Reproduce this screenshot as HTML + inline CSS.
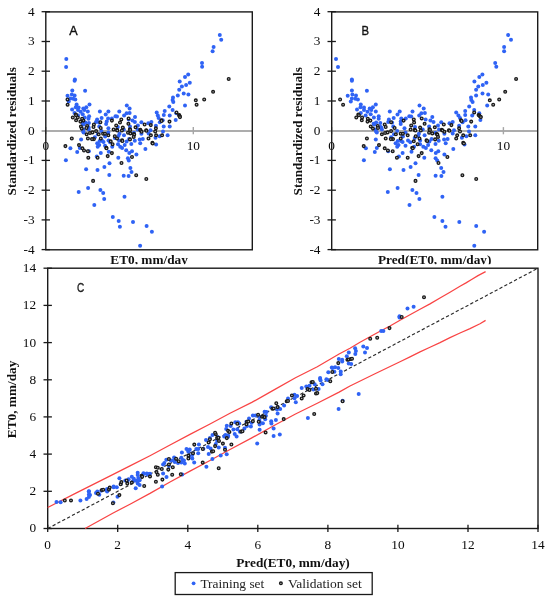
<!DOCTYPE html>
<html><head><meta charset="utf-8"><title>Figure</title>
<style>html,body{margin:0;padding:0;background:#fff}svg{display:block}</style></head>
<body>
<svg width="550" height="603" viewBox="0 0 550 603">
<rect width="550" height="603" fill="#fff"/>
<line x1="41.599999999999994" y1="131.0" x2="252.3" y2="131.0" stroke="#adadad" stroke-width="2"/>
<line x1="45.8" y1="127.1" x2="45.8" y2="134.29999999999998" stroke="#a6a6a6" stroke-width="1.4"/>
<text x="45.8" y="149.6" text-anchor="middle" font-family="'Liberation Serif', serif" font-size="13.3" fill="#0a0a0a">0</text>
<line x1="193.3" y1="127.1" x2="193.3" y2="134.29999999999998" stroke="#a6a6a6" stroke-width="1.4"/>
<text x="193.3" y="149.6" text-anchor="middle" font-family="'Liberation Serif', serif" font-size="13.3" fill="#0a0a0a">10</text>
<rect x="45.8" y="11.9" width="206.5" height="237.9" fill="none" stroke="#1a1a1a" stroke-width="1.4"/>
<line x1="41.599999999999994" y1="249.6" x2="50.0" y2="249.6" stroke="#1a1a1a" stroke-width="1.3"/>
<text x="34.6" y="253.5" text-anchor="end" font-family="'Liberation Serif', serif" font-size="13.3" fill="#0a0a0a">-4</text>
<line x1="41.599999999999994" y1="219.9" x2="50.0" y2="219.9" stroke="#1a1a1a" stroke-width="1.3"/>
<text x="34.6" y="223.8" text-anchor="end" font-family="'Liberation Serif', serif" font-size="13.3" fill="#0a0a0a">-3</text>
<line x1="41.599999999999994" y1="190.2" x2="50.0" y2="190.2" stroke="#1a1a1a" stroke-width="1.3"/>
<text x="34.6" y="194.1" text-anchor="end" font-family="'Liberation Serif', serif" font-size="13.3" fill="#0a0a0a">-2</text>
<line x1="41.599999999999994" y1="160.4" x2="50.0" y2="160.4" stroke="#1a1a1a" stroke-width="1.3"/>
<text x="34.6" y="164.3" text-anchor="end" font-family="'Liberation Serif', serif" font-size="13.3" fill="#0a0a0a">-1</text>
<text x="34.6" y="134.6" text-anchor="end" font-family="'Liberation Serif', serif" font-size="13.3" fill="#0a0a0a">0</text>
<line x1="41.599999999999994" y1="101.0" x2="50.0" y2="101.0" stroke="#1a1a1a" stroke-width="1.3"/>
<text x="34.6" y="104.9" text-anchor="end" font-family="'Liberation Serif', serif" font-size="13.3" fill="#0a0a0a">1</text>
<line x1="41.599999999999994" y1="71.2" x2="50.0" y2="71.2" stroke="#1a1a1a" stroke-width="1.3"/>
<text x="34.6" y="75.1" text-anchor="end" font-family="'Liberation Serif', serif" font-size="13.3" fill="#0a0a0a">2</text>
<line x1="41.599999999999994" y1="41.5" x2="50.0" y2="41.5" stroke="#1a1a1a" stroke-width="1.3"/>
<text x="34.6" y="45.4" text-anchor="end" font-family="'Liberation Serif', serif" font-size="13.3" fill="#0a0a0a">3</text>
<line x1="41.599999999999994" y1="11.7" x2="50.0" y2="11.7" stroke="#1a1a1a" stroke-width="1.3"/>
<text x="34.6" y="15.6" text-anchor="end" font-family="'Liberation Serif', serif" font-size="13.3" fill="#0a0a0a">4</text>
<circle cx="106.7" cy="121.6" r="2.0" fill="#2f63f5"/>
<circle cx="106.1" cy="124.1" r="2.0" fill="#2f63f5"/>
<circle cx="108.4" cy="128.3" r="2.0" fill="#2f63f5"/>
<circle cx="99.3" cy="126.4" r="2.0" fill="#2f63f5"/>
<circle cx="101.4" cy="131.1" r="2.0" fill="#2f63f5"/>
<circle cx="97.9" cy="134.3" r="2.0" fill="#2f63f5"/>
<circle cx="108.3" cy="132.4" r="2.0" fill="#2f63f5"/>
<circle cx="105.1" cy="136.5" r="2.0" fill="#2f63f5"/>
<circle cx="108.5" cy="140.4" r="2.0" fill="#2f63f5"/>
<circle cx="110.0" cy="142.3" r="2.0" fill="#2f63f5"/>
<circle cx="99.6" cy="141.0" r="2.0" fill="#2f63f5"/>
<circle cx="102.4" cy="141.0" r="2.0" fill="#2f63f5"/>
<circle cx="103.5" cy="141.9" r="2.0" fill="#2f63f5"/>
<circle cx="97.2" cy="143.2" r="2.0" fill="#2f63f5"/>
<circle cx="99.2" cy="145.1" r="2.0" fill="#2f63f5"/>
<circle cx="97.7" cy="146.7" r="2.0" fill="#2f63f5"/>
<circle cx="105.0" cy="145.8" r="2.0" fill="#2f63f5"/>
<circle cx="100.8" cy="153.1" r="2.0" fill="#2f63f5"/>
<circle cx="108.8" cy="151.8" r="2.0" fill="#2f63f5"/>
<circle cx="112.2" cy="146.7" r="2.0" fill="#2f63f5"/>
<circle cx="117.8" cy="127.0" r="2.0" fill="#2f63f5"/>
<circle cx="119.5" cy="133.7" r="2.0" fill="#2f63f5"/>
<circle cx="118.4" cy="135.9" r="2.0" fill="#2f63f5"/>
<circle cx="119.0" cy="140.4" r="2.0" fill="#2f63f5"/>
<circle cx="123.8" cy="129.5" r="2.0" fill="#2f63f5"/>
<circle cx="124.0" cy="135.3" r="2.0" fill="#2f63f5"/>
<circle cx="118.0" cy="144.2" r="2.0" fill="#2f63f5"/>
<circle cx="120.2" cy="146.7" r="2.0" fill="#2f63f5"/>
<circle cx="114.8" cy="138.1" r="2.0" fill="#2f63f5"/>
<circle cx="94.8" cy="137.2" r="2.0" fill="#2f63f5"/>
<circle cx="99.1" cy="122.5" r="2.0" fill="#2f63f5"/>
<circle cx="81.1" cy="139.4" r="2.0" fill="#2f63f5"/>
<circle cx="70.4" cy="148.3" r="2.0" fill="#2f63f5"/>
<circle cx="79.8" cy="148.0" r="2.0" fill="#2f63f5"/>
<circle cx="77.2" cy="152.1" r="2.0" fill="#2f63f5"/>
<circle cx="82.9" cy="123.8" r="2.0" fill="#2f63f5"/>
<circle cx="85.4" cy="122.5" r="2.0" fill="#2f63f5"/>
<circle cx="88.9" cy="122.9" r="2.0" fill="#2f63f5"/>
<circle cx="88.2" cy="127.0" r="2.0" fill="#2f63f5"/>
<circle cx="83.2" cy="129.5" r="2.0" fill="#2f63f5"/>
<circle cx="83.6" cy="132.4" r="2.0" fill="#2f63f5"/>
<circle cx="88.7" cy="129.5" r="2.0" fill="#2f63f5"/>
<circle cx="96.0" cy="121.9" r="2.0" fill="#2f63f5"/>
<circle cx="88.9" cy="151.2" r="2.0" fill="#2f63f5"/>
<circle cx="83.3" cy="124.5" r="2.0" fill="#2f63f5"/>
<circle cx="88.6" cy="127.6" r="2.0" fill="#2f63f5"/>
<circle cx="83.3" cy="131.5" r="2.0" fill="#2f63f5"/>
<circle cx="134.9" cy="121.9" r="2.0" fill="#2f63f5"/>
<circle cx="141.4" cy="122.2" r="2.0" fill="#2f63f5"/>
<circle cx="137.9" cy="125.4" r="2.0" fill="#2f63f5"/>
<circle cx="130.0" cy="126.4" r="2.0" fill="#2f63f5"/>
<circle cx="137.7" cy="129.5" r="2.0" fill="#2f63f5"/>
<circle cx="134.0" cy="132.7" r="2.0" fill="#2f63f5"/>
<circle cx="141.4" cy="133.7" r="2.0" fill="#2f63f5"/>
<circle cx="148.6" cy="133.4" r="2.0" fill="#2f63f5"/>
<circle cx="150.5" cy="130.2" r="2.0" fill="#2f63f5"/>
<circle cx="148.3" cy="123.2" r="2.0" fill="#2f63f5"/>
<circle cx="151.4" cy="121.9" r="2.0" fill="#2f63f5"/>
<circle cx="155.9" cy="125.7" r="2.0" fill="#2f63f5"/>
<circle cx="139.7" cy="139.4" r="2.0" fill="#2f63f5"/>
<circle cx="142.8" cy="139.1" r="2.0" fill="#2f63f5"/>
<circle cx="140.2" cy="143.2" r="2.0" fill="#2f63f5"/>
<circle cx="131.3" cy="143.9" r="2.0" fill="#2f63f5"/>
<circle cx="129.1" cy="139.1" r="2.0" fill="#2f63f5"/>
<circle cx="126.6" cy="141.6" r="2.0" fill="#2f63f5"/>
<circle cx="124.7" cy="145.1" r="2.0" fill="#2f63f5"/>
<circle cx="122.1" cy="148.0" r="2.0" fill="#2f63f5"/>
<circle cx="126.2" cy="150.2" r="2.0" fill="#2f63f5"/>
<circle cx="132.0" cy="151.2" r="2.0" fill="#2f63f5"/>
<circle cx="129.3" cy="153.1" r="2.0" fill="#2f63f5"/>
<circle cx="145.4" cy="148.9" r="2.0" fill="#2f63f5"/>
<circle cx="136.4" cy="154.4" r="2.0" fill="#2f63f5"/>
<circle cx="132.5" cy="120.6" r="2.0" fill="#2f63f5"/>
<circle cx="134.8" cy="140.7" r="2.0" fill="#2f63f5"/>
<circle cx="163.7" cy="126.4" r="2.0" fill="#2f63f5"/>
<circle cx="169.7" cy="126.4" r="2.0" fill="#2f63f5"/>
<circle cx="163.0" cy="131.5" r="2.0" fill="#2f63f5"/>
<circle cx="167.6" cy="135.3" r="2.0" fill="#2f63f5"/>
<circle cx="159.7" cy="136.2" r="2.0" fill="#2f63f5"/>
<circle cx="155.5" cy="137.8" r="2.0" fill="#2f63f5"/>
<circle cx="156.1" cy="144.5" r="2.0" fill="#2f63f5"/>
<circle cx="162.7" cy="120.3" r="2.0" fill="#2f63f5"/>
<circle cx="175.7" cy="120.0" r="2.0" fill="#2f63f5"/>
<circle cx="159.8" cy="122.2" r="2.0" fill="#2f63f5"/>
<circle cx="85.1" cy="90.7" r="2.0" fill="#2f63f5"/>
<circle cx="74.6" cy="95.5" r="2.0" fill="#2f63f5"/>
<circle cx="75.3" cy="99.6" r="2.0" fill="#2f63f5"/>
<circle cx="73.3" cy="98.7" r="2.0" fill="#2f63f5"/>
<circle cx="76.6" cy="104.4" r="2.0" fill="#2f63f5"/>
<circle cx="89.5" cy="104.4" r="2.0" fill="#2f63f5"/>
<circle cx="75.7" cy="107.3" r="2.0" fill="#2f63f5"/>
<circle cx="78.6" cy="107.6" r="2.0" fill="#2f63f5"/>
<circle cx="78.0" cy="110.1" r="2.0" fill="#2f63f5"/>
<circle cx="72.1" cy="109.5" r="2.0" fill="#2f63f5"/>
<circle cx="83.3" cy="108.6" r="2.0" fill="#2f63f5"/>
<circle cx="86.3" cy="107.3" r="2.0" fill="#2f63f5"/>
<circle cx="84.3" cy="110.1" r="2.0" fill="#2f63f5"/>
<circle cx="80.6" cy="111.7" r="2.0" fill="#2f63f5"/>
<circle cx="87.8" cy="111.4" r="2.0" fill="#2f63f5"/>
<circle cx="74.5" cy="113.0" r="2.0" fill="#2f63f5"/>
<circle cx="82.7" cy="114.3" r="2.0" fill="#2f63f5"/>
<circle cx="78.0" cy="115.6" r="2.0" fill="#2f63f5"/>
<circle cx="84.7" cy="117.5" r="2.0" fill="#2f63f5"/>
<circle cx="89.1" cy="116.2" r="2.0" fill="#2f63f5"/>
<circle cx="88.5" cy="118.7" r="2.0" fill="#2f63f5"/>
<circle cx="99.9" cy="111.4" r="2.0" fill="#2f63f5"/>
<circle cx="97.1" cy="119.4" r="2.0" fill="#2f63f5"/>
<circle cx="126.8" cy="105.4" r="2.0" fill="#2f63f5"/>
<circle cx="129.6" cy="108.6" r="2.0" fill="#2f63f5"/>
<circle cx="108.4" cy="111.4" r="2.0" fill="#2f63f5"/>
<circle cx="119.3" cy="111.4" r="2.0" fill="#2f63f5"/>
<circle cx="105.7" cy="114.6" r="2.0" fill="#2f63f5"/>
<circle cx="126.6" cy="113.3" r="2.0" fill="#2f63f5"/>
<circle cx="124.1" cy="115.6" r="2.0" fill="#2f63f5"/>
<circle cx="129.6" cy="113.0" r="2.0" fill="#2f63f5"/>
<circle cx="115.5" cy="116.2" r="2.0" fill="#2f63f5"/>
<circle cx="117.0" cy="116.5" r="2.0" fill="#2f63f5"/>
<circle cx="101.6" cy="118.1" r="2.0" fill="#2f63f5"/>
<circle cx="108.1" cy="118.4" r="2.0" fill="#2f63f5"/>
<circle cx="111.9" cy="118.4" r="2.0" fill="#2f63f5"/>
<circle cx="135.0" cy="117.1" r="2.0" fill="#2f63f5"/>
<circle cx="156.7" cy="112.4" r="2.0" fill="#2f63f5"/>
<circle cx="157.8" cy="115.6" r="2.0" fill="#2f63f5"/>
<circle cx="158.6" cy="118.1" r="2.0" fill="#2f63f5"/>
<circle cx="128.7" cy="119.4" r="2.0" fill="#2f63f5"/>
<circle cx="181.9" cy="86.6" r="2.0" fill="#2f63f5"/>
<circle cx="179.2" cy="89.8" r="2.0" fill="#2f63f5"/>
<circle cx="183.7" cy="93.6" r="2.0" fill="#2f63f5"/>
<circle cx="188.4" cy="94.6" r="2.0" fill="#2f63f5"/>
<circle cx="177.8" cy="95.5" r="2.0" fill="#2f63f5"/>
<circle cx="173.0" cy="97.4" r="2.0" fill="#2f63f5"/>
<circle cx="172.6" cy="100.0" r="2.0" fill="#2f63f5"/>
<circle cx="173.3" cy="101.9" r="2.0" fill="#2f63f5"/>
<circle cx="185.0" cy="105.4" r="2.0" fill="#2f63f5"/>
<circle cx="169.3" cy="106.6" r="2.0" fill="#2f63f5"/>
<circle cx="172.6" cy="110.1" r="2.0" fill="#2f63f5"/>
<circle cx="164.7" cy="111.1" r="2.0" fill="#2f63f5"/>
<circle cx="163.8" cy="114.9" r="2.0" fill="#2f63f5"/>
<circle cx="169.7" cy="115.6" r="2.0" fill="#2f63f5"/>
<circle cx="176.3" cy="113.3" r="2.0" fill="#2f63f5"/>
<circle cx="186.1" cy="85.0" r="2.0" fill="#2f63f5"/>
<circle cx="66.3" cy="58.9" r="2.0" fill="#2f63f5"/>
<circle cx="66.1" cy="66.9" r="2.0" fill="#2f63f5"/>
<circle cx="74.9" cy="79.6" r="2.0" fill="#2f63f5"/>
<circle cx="74.6" cy="80.7" r="2.0" fill="#2f63f5"/>
<circle cx="72.3" cy="90.5" r="2.0" fill="#2f63f5"/>
<circle cx="67.5" cy="95.8" r="2.0" fill="#2f63f5"/>
<circle cx="71.8" cy="94.6" r="2.0" fill="#2f63f5"/>
<circle cx="70.3" cy="98.6" r="2.0" fill="#2f63f5"/>
<circle cx="68.7" cy="101.6" r="2.0" fill="#2f63f5"/>
<circle cx="188.2" cy="74.6" r="2.0" fill="#2f63f5"/>
<circle cx="185.0" cy="77.1" r="2.0" fill="#2f63f5"/>
<circle cx="179.7" cy="81.5" r="2.0" fill="#2f63f5"/>
<circle cx="189.8" cy="82.8" r="2.0" fill="#2f63f5"/>
<circle cx="219.8" cy="35.1" r="2.0" fill="#2f63f5"/>
<circle cx="221.2" cy="39.8" r="2.0" fill="#2f63f5"/>
<circle cx="213.6" cy="46.9" r="2.0" fill="#2f63f5"/>
<circle cx="212.6" cy="51.2" r="2.0" fill="#2f63f5"/>
<circle cx="202.0" cy="62.9" r="2.0" fill="#2f63f5"/>
<circle cx="202.1" cy="66.8" r="2.0" fill="#2f63f5"/>
<circle cx="65.9" cy="160.2" r="2.0" fill="#2f63f5"/>
<circle cx="86.1" cy="169.2" r="2.0" fill="#2f63f5"/>
<circle cx="97.5" cy="169.9" r="2.0" fill="#2f63f5"/>
<circle cx="104.4" cy="167.0" r="2.0" fill="#2f63f5"/>
<circle cx="109.5" cy="163.2" r="2.0" fill="#2f63f5"/>
<circle cx="109.3" cy="174.9" r="2.0" fill="#2f63f5"/>
<circle cx="118.3" cy="157.7" r="2.0" fill="#2f63f5"/>
<circle cx="127.9" cy="158.3" r="2.0" fill="#2f63f5"/>
<circle cx="128.8" cy="160.4" r="2.0" fill="#2f63f5"/>
<circle cx="130.4" cy="168.1" r="2.0" fill="#2f63f5"/>
<circle cx="131.5" cy="171.9" r="2.0" fill="#2f63f5"/>
<circle cx="128.6" cy="176.0" r="2.0" fill="#2f63f5"/>
<circle cx="123.7" cy="175.7" r="2.0" fill="#2f63f5"/>
<circle cx="96.8" cy="156.6" r="2.0" fill="#2f63f5"/>
<circle cx="78.7" cy="192.1" r="2.0" fill="#2f63f5"/>
<circle cx="88.1" cy="188.0" r="2.0" fill="#2f63f5"/>
<circle cx="100.4" cy="189.9" r="2.0" fill="#2f63f5"/>
<circle cx="103.2" cy="193.0" r="2.0" fill="#2f63f5"/>
<circle cx="104.2" cy="199.1" r="2.0" fill="#2f63f5"/>
<circle cx="94.3" cy="204.9" r="2.0" fill="#2f63f5"/>
<circle cx="124.5" cy="196.8" r="2.0" fill="#2f63f5"/>
<circle cx="112.8" cy="216.9" r="2.0" fill="#2f63f5"/>
<circle cx="118.7" cy="220.9" r="2.0" fill="#2f63f5"/>
<circle cx="119.9" cy="226.8" r="2.0" fill="#2f63f5"/>
<circle cx="133.0" cy="221.9" r="2.0" fill="#2f63f5"/>
<circle cx="146.6" cy="225.9" r="2.0" fill="#2f63f5"/>
<circle cx="151.9" cy="231.8" r="2.0" fill="#2f63f5"/>
<circle cx="140.1" cy="245.8" r="2.0" fill="#2f63f5"/>
<circle cx="100.7" cy="128.0" r="1.35" fill="#c4c4c4" stroke="#1a1a1a" stroke-width="1.35"/>
<circle cx="96.1" cy="131.1" r="1.35" fill="#c4c4c4" stroke="#1a1a1a" stroke-width="1.35"/>
<circle cx="98.7" cy="134.3" r="1.35" fill="#c4c4c4" stroke="#1a1a1a" stroke-width="1.35"/>
<circle cx="103.1" cy="133.7" r="1.35" fill="#c4c4c4" stroke="#1a1a1a" stroke-width="1.35"/>
<circle cx="105.0" cy="133.7" r="1.35" fill="#c4c4c4" stroke="#1a1a1a" stroke-width="1.35"/>
<circle cx="108.4" cy="135.3" r="1.35" fill="#c4c4c4" stroke="#1a1a1a" stroke-width="1.35"/>
<circle cx="100.8" cy="138.5" r="1.35" fill="#c4c4c4" stroke="#1a1a1a" stroke-width="1.35"/>
<circle cx="93.9" cy="139.1" r="1.35" fill="#c4c4c4" stroke="#1a1a1a" stroke-width="1.35"/>
<circle cx="92.0" cy="139.1" r="1.35" fill="#c4c4c4" stroke="#1a1a1a" stroke-width="1.35"/>
<circle cx="116.2" cy="125.4" r="1.35" fill="#c4c4c4" stroke="#1a1a1a" stroke-width="1.35"/>
<circle cx="120.0" cy="122.5" r="1.35" fill="#c4c4c4" stroke="#1a1a1a" stroke-width="1.35"/>
<circle cx="113.6" cy="129.5" r="1.35" fill="#c4c4c4" stroke="#1a1a1a" stroke-width="1.35"/>
<circle cx="117.0" cy="129.9" r="1.35" fill="#c4c4c4" stroke="#1a1a1a" stroke-width="1.35"/>
<circle cx="117.3" cy="130.5" r="1.35" fill="#c4c4c4" stroke="#1a1a1a" stroke-width="1.35"/>
<circle cx="122.8" cy="127.6" r="1.35" fill="#c4c4c4" stroke="#1a1a1a" stroke-width="1.35"/>
<circle cx="121.9" cy="130.5" r="1.35" fill="#c4c4c4" stroke="#1a1a1a" stroke-width="1.35"/>
<circle cx="114.8" cy="136.2" r="1.35" fill="#c4c4c4" stroke="#1a1a1a" stroke-width="1.35"/>
<circle cx="117.0" cy="138.5" r="1.35" fill="#c4c4c4" stroke="#1a1a1a" stroke-width="1.35"/>
<circle cx="110.7" cy="141.3" r="1.35" fill="#c4c4c4" stroke="#1a1a1a" stroke-width="1.35"/>
<circle cx="106.3" cy="147.7" r="1.35" fill="#c4c4c4" stroke="#1a1a1a" stroke-width="1.35"/>
<circle cx="106.5" cy="148.3" r="1.35" fill="#c4c4c4" stroke="#1a1a1a" stroke-width="1.35"/>
<circle cx="112.6" cy="144.2" r="1.35" fill="#c4c4c4" stroke="#1a1a1a" stroke-width="1.35"/>
<circle cx="87.9" cy="151.2" r="1.35" fill="#c4c4c4" stroke="#1a1a1a" stroke-width="1.35"/>
<circle cx="111.9" cy="153.1" r="1.35" fill="#c4c4c4" stroke="#1a1a1a" stroke-width="1.35"/>
<circle cx="128.4" cy="123.8" r="1.35" fill="#c4c4c4" stroke="#1a1a1a" stroke-width="1.35"/>
<circle cx="111.9" cy="120.6" r="1.35" fill="#c4c4c4" stroke="#1a1a1a" stroke-width="1.35"/>
<circle cx="100.4" cy="122.2" r="1.35" fill="#c4c4c4" stroke="#1a1a1a" stroke-width="1.35"/>
<circle cx="71.8" cy="138.5" r="1.35" fill="#c4c4c4" stroke="#1a1a1a" stroke-width="1.35"/>
<circle cx="65.4" cy="146.1" r="1.35" fill="#c4c4c4" stroke="#1a1a1a" stroke-width="1.35"/>
<circle cx="79.0" cy="145.1" r="1.35" fill="#c4c4c4" stroke="#1a1a1a" stroke-width="1.35"/>
<circle cx="82.4" cy="148.3" r="1.35" fill="#c4c4c4" stroke="#1a1a1a" stroke-width="1.35"/>
<circle cx="84.0" cy="150.5" r="1.35" fill="#c4c4c4" stroke="#1a1a1a" stroke-width="1.35"/>
<circle cx="87.9" cy="138.5" r="1.35" fill="#c4c4c4" stroke="#1a1a1a" stroke-width="1.35"/>
<circle cx="86.6" cy="134.3" r="1.35" fill="#c4c4c4" stroke="#1a1a1a" stroke-width="1.35"/>
<circle cx="90.0" cy="133.0" r="1.35" fill="#c4c4c4" stroke="#1a1a1a" stroke-width="1.35"/>
<circle cx="92.5" cy="132.4" r="1.35" fill="#c4c4c4" stroke="#1a1a1a" stroke-width="1.35"/>
<circle cx="80.9" cy="126.4" r="1.35" fill="#c4c4c4" stroke="#1a1a1a" stroke-width="1.35"/>
<circle cx="81.7" cy="128.6" r="1.35" fill="#c4c4c4" stroke="#1a1a1a" stroke-width="1.35"/>
<circle cx="87.1" cy="126.0" r="1.35" fill="#c4c4c4" stroke="#1a1a1a" stroke-width="1.35"/>
<circle cx="86.4" cy="128.0" r="1.35" fill="#c4c4c4" stroke="#1a1a1a" stroke-width="1.35"/>
<circle cx="80.4" cy="121.6" r="1.35" fill="#c4c4c4" stroke="#1a1a1a" stroke-width="1.35"/>
<circle cx="83.4" cy="120.6" r="1.35" fill="#c4c4c4" stroke="#1a1a1a" stroke-width="1.35"/>
<circle cx="76.1" cy="120.3" r="1.35" fill="#c4c4c4" stroke="#1a1a1a" stroke-width="1.35"/>
<circle cx="93.9" cy="124.5" r="1.35" fill="#c4c4c4" stroke="#1a1a1a" stroke-width="1.35"/>
<circle cx="93.5" cy="127.0" r="1.35" fill="#c4c4c4" stroke="#1a1a1a" stroke-width="1.35"/>
<circle cx="144.6" cy="124.5" r="1.35" fill="#c4c4c4" stroke="#1a1a1a" stroke-width="1.35"/>
<circle cx="150.8" cy="125.1" r="1.35" fill="#c4c4c4" stroke="#1a1a1a" stroke-width="1.35"/>
<circle cx="135.5" cy="127.3" r="1.35" fill="#c4c4c4" stroke="#1a1a1a" stroke-width="1.35"/>
<circle cx="129.9" cy="129.2" r="1.35" fill="#c4c4c4" stroke="#1a1a1a" stroke-width="1.35"/>
<circle cx="130.2" cy="129.9" r="1.35" fill="#c4c4c4" stroke="#1a1a1a" stroke-width="1.35"/>
<circle cx="128.0" cy="132.7" r="1.35" fill="#c4c4c4" stroke="#1a1a1a" stroke-width="1.35"/>
<circle cx="130.4" cy="133.4" r="1.35" fill="#c4c4c4" stroke="#1a1a1a" stroke-width="1.35"/>
<circle cx="140.3" cy="129.9" r="1.35" fill="#c4c4c4" stroke="#1a1a1a" stroke-width="1.35"/>
<circle cx="140.6" cy="130.5" r="1.35" fill="#c4c4c4" stroke="#1a1a1a" stroke-width="1.35"/>
<circle cx="141.6" cy="131.8" r="1.35" fill="#c4c4c4" stroke="#1a1a1a" stroke-width="1.35"/>
<circle cx="146.2" cy="130.2" r="1.35" fill="#c4c4c4" stroke="#1a1a1a" stroke-width="1.35"/>
<circle cx="146.4" cy="130.8" r="1.35" fill="#c4c4c4" stroke="#1a1a1a" stroke-width="1.35"/>
<circle cx="133.9" cy="134.0" r="1.35" fill="#c4c4c4" stroke="#1a1a1a" stroke-width="1.35"/>
<circle cx="134.2" cy="134.6" r="1.35" fill="#c4c4c4" stroke="#1a1a1a" stroke-width="1.35"/>
<circle cx="133.7" cy="136.9" r="1.35" fill="#c4c4c4" stroke="#1a1a1a" stroke-width="1.35"/>
<circle cx="130.0" cy="139.4" r="1.35" fill="#c4c4c4" stroke="#1a1a1a" stroke-width="1.35"/>
<circle cx="122.1" cy="140.4" r="1.35" fill="#c4c4c4" stroke="#1a1a1a" stroke-width="1.35"/>
<circle cx="122.4" cy="141.0" r="1.35" fill="#c4c4c4" stroke="#1a1a1a" stroke-width="1.35"/>
<circle cx="150.9" cy="135.3" r="1.35" fill="#c4c4c4" stroke="#1a1a1a" stroke-width="1.35"/>
<circle cx="148.5" cy="138.5" r="1.35" fill="#c4c4c4" stroke="#1a1a1a" stroke-width="1.35"/>
<circle cx="155.9" cy="128.3" r="1.35" fill="#c4c4c4" stroke="#1a1a1a" stroke-width="1.35"/>
<circle cx="155.2" cy="131.5" r="1.35" fill="#c4c4c4" stroke="#1a1a1a" stroke-width="1.35"/>
<circle cx="169.5" cy="121.6" r="1.35" fill="#c4c4c4" stroke="#1a1a1a" stroke-width="1.35"/>
<circle cx="156.1" cy="135.3" r="1.35" fill="#c4c4c4" stroke="#1a1a1a" stroke-width="1.35"/>
<circle cx="162.1" cy="135.3" r="1.35" fill="#c4c4c4" stroke="#1a1a1a" stroke-width="1.35"/>
<circle cx="152.4" cy="142.9" r="1.35" fill="#c4c4c4" stroke="#1a1a1a" stroke-width="1.35"/>
<circle cx="152.7" cy="143.5" r="1.35" fill="#c4c4c4" stroke="#1a1a1a" stroke-width="1.35"/>
<circle cx="161.4" cy="120.3" r="1.35" fill="#c4c4c4" stroke="#1a1a1a" stroke-width="1.35"/>
<circle cx="161.6" cy="121.0" r="1.35" fill="#c4c4c4" stroke="#1a1a1a" stroke-width="1.35"/>
<circle cx="75.8" cy="114.6" r="1.35" fill="#c4c4c4" stroke="#1a1a1a" stroke-width="1.35"/>
<circle cx="76.1" cy="115.2" r="1.35" fill="#c4c4c4" stroke="#1a1a1a" stroke-width="1.35"/>
<circle cx="72.8" cy="117.5" r="1.35" fill="#c4c4c4" stroke="#1a1a1a" stroke-width="1.35"/>
<circle cx="77.8" cy="117.5" r="1.35" fill="#c4c4c4" stroke="#1a1a1a" stroke-width="1.35"/>
<circle cx="82.1" cy="118.7" r="1.35" fill="#c4c4c4" stroke="#1a1a1a" stroke-width="1.35"/>
<circle cx="121.3" cy="119.4" r="1.35" fill="#c4c4c4" stroke="#1a1a1a" stroke-width="1.35"/>
<circle cx="128.6" cy="118.4" r="1.35" fill="#c4c4c4" stroke="#1a1a1a" stroke-width="1.35"/>
<circle cx="195.8" cy="100.3" r="1.35" fill="#c4c4c4" stroke="#1a1a1a" stroke-width="1.35"/>
<circle cx="176.5" cy="112.4" r="1.35" fill="#c4c4c4" stroke="#1a1a1a" stroke-width="1.35"/>
<circle cx="179.1" cy="114.9" r="1.35" fill="#c4c4c4" stroke="#1a1a1a" stroke-width="1.35"/>
<circle cx="179.4" cy="115.6" r="1.35" fill="#c4c4c4" stroke="#1a1a1a" stroke-width="1.35"/>
<circle cx="179.7" cy="116.5" r="1.35" fill="#c4c4c4" stroke="#1a1a1a" stroke-width="1.35"/>
<circle cx="180.0" cy="117.1" r="1.35" fill="#c4c4c4" stroke="#1a1a1a" stroke-width="1.35"/>
<circle cx="67.5" cy="99.5" r="1.35" fill="#c4c4c4" stroke="#1a1a1a" stroke-width="1.35"/>
<circle cx="67.6" cy="104.7" r="1.35" fill="#c4c4c4" stroke="#1a1a1a" stroke-width="1.35"/>
<circle cx="213.1" cy="91.8" r="1.35" fill="#c4c4c4" stroke="#1a1a1a" stroke-width="1.35"/>
<circle cx="204.2" cy="99.5" r="1.35" fill="#c4c4c4" stroke="#1a1a1a" stroke-width="1.35"/>
<circle cx="196.6" cy="104.7" r="1.35" fill="#c4c4c4" stroke="#1a1a1a" stroke-width="1.35"/>
<circle cx="228.7" cy="78.9" r="1.35" fill="#c4c4c4" stroke="#1a1a1a" stroke-width="1.35"/>
<circle cx="93.1" cy="180.9" r="1.35" fill="#c4c4c4" stroke="#1a1a1a" stroke-width="1.35"/>
<circle cx="88.3" cy="157.7" r="1.35" fill="#c4c4c4" stroke="#1a1a1a" stroke-width="1.35"/>
<circle cx="97.6" cy="157.7" r="1.35" fill="#c4c4c4" stroke="#1a1a1a" stroke-width="1.35"/>
<circle cx="107.7" cy="156.1" r="1.35" fill="#c4c4c4" stroke="#1a1a1a" stroke-width="1.35"/>
<circle cx="121.5" cy="163.0" r="1.35" fill="#c4c4c4" stroke="#1a1a1a" stroke-width="1.35"/>
<circle cx="132.0" cy="157.0" r="1.35" fill="#c4c4c4" stroke="#1a1a1a" stroke-width="1.35"/>
<circle cx="136.2" cy="175.2" r="1.35" fill="#c4c4c4" stroke="#1a1a1a" stroke-width="1.35"/>
<circle cx="146.3" cy="179.0" r="1.35" fill="#c4c4c4" stroke="#1a1a1a" stroke-width="1.35"/>
<text transform="translate(69.3,34.8) scale(1,1)" font-family="'Liberation Sans', sans-serif" font-size="12.6" fill="#111" stroke="#111" stroke-width="0.35">A</text>
<text x="149.1" y="263.6" text-anchor="middle" font-family="'Liberation Serif', serif" font-size="13.3" font-weight="bold" fill="#111">ET0, mm/day</text>
<text transform="translate(16.2,131.3) rotate(-90)" text-anchor="middle" font-family="'Liberation Serif', serif" font-size="13.1" font-weight="bold" fill="#111">Standardized residuals</text>
<line x1="327.5" y1="131.0" x2="537.7" y2="131.0" stroke="#adadad" stroke-width="2"/>
<line x1="331.7" y1="127.1" x2="331.7" y2="134.29999999999998" stroke="#a6a6a6" stroke-width="1.4"/>
<text x="331.7" y="149.6" text-anchor="middle" font-family="'Liberation Serif', serif" font-size="13.3" fill="#0a0a0a">0</text>
<line x1="503.4" y1="127.1" x2="503.4" y2="134.29999999999998" stroke="#a6a6a6" stroke-width="1.4"/>
<text x="503.4" y="149.6" text-anchor="middle" font-family="'Liberation Serif', serif" font-size="13.3" fill="#0a0a0a">10</text>
<rect x="331.7" y="11.9" width="206.0" height="237.9" fill="none" stroke="#1a1a1a" stroke-width="1.4"/>
<line x1="327.5" y1="249.6" x2="335.9" y2="249.6" stroke="#1a1a1a" stroke-width="1.3"/>
<text x="320.5" y="253.5" text-anchor="end" font-family="'Liberation Serif', serif" font-size="13.3" fill="#0a0a0a">-4</text>
<line x1="327.5" y1="219.9" x2="335.9" y2="219.9" stroke="#1a1a1a" stroke-width="1.3"/>
<text x="320.5" y="223.8" text-anchor="end" font-family="'Liberation Serif', serif" font-size="13.3" fill="#0a0a0a">-3</text>
<line x1="327.5" y1="190.2" x2="335.9" y2="190.2" stroke="#1a1a1a" stroke-width="1.3"/>
<text x="320.5" y="194.1" text-anchor="end" font-family="'Liberation Serif', serif" font-size="13.3" fill="#0a0a0a">-2</text>
<line x1="327.5" y1="160.4" x2="335.9" y2="160.4" stroke="#1a1a1a" stroke-width="1.3"/>
<text x="320.5" y="164.3" text-anchor="end" font-family="'Liberation Serif', serif" font-size="13.3" fill="#0a0a0a">-1</text>
<text x="320.5" y="134.6" text-anchor="end" font-family="'Liberation Serif', serif" font-size="13.3" fill="#0a0a0a">0</text>
<line x1="327.5" y1="101.0" x2="335.9" y2="101.0" stroke="#1a1a1a" stroke-width="1.3"/>
<text x="320.5" y="104.9" text-anchor="end" font-family="'Liberation Serif', serif" font-size="13.3" fill="#0a0a0a">1</text>
<line x1="327.5" y1="71.2" x2="335.9" y2="71.2" stroke="#1a1a1a" stroke-width="1.3"/>
<text x="320.5" y="75.1" text-anchor="end" font-family="'Liberation Serif', serif" font-size="13.3" fill="#0a0a0a">2</text>
<line x1="327.5" y1="41.5" x2="335.9" y2="41.5" stroke="#1a1a1a" stroke-width="1.3"/>
<text x="320.5" y="45.4" text-anchor="end" font-family="'Liberation Serif', serif" font-size="13.3" fill="#0a0a0a">3</text>
<line x1="327.5" y1="11.7" x2="335.9" y2="11.7" stroke="#1a1a1a" stroke-width="1.3"/>
<text x="320.5" y="15.6" text-anchor="end" font-family="'Liberation Serif', serif" font-size="13.3" fill="#0a0a0a">4</text>
<circle cx="400.7" cy="121.6" r="2.0" fill="#2f63f5"/>
<circle cx="400.7" cy="124.1" r="2.0" fill="#2f63f5"/>
<circle cx="404.5" cy="128.3" r="2.0" fill="#2f63f5"/>
<circle cx="393.3" cy="126.4" r="2.0" fill="#2f63f5"/>
<circle cx="397.2" cy="131.1" r="2.0" fill="#2f63f5"/>
<circle cx="394.0" cy="134.3" r="2.0" fill="#2f63f5"/>
<circle cx="405.5" cy="132.4" r="2.0" fill="#2f63f5"/>
<circle cx="402.9" cy="136.5" r="2.0" fill="#2f63f5"/>
<circle cx="408.0" cy="140.4" r="2.0" fill="#2f63f5"/>
<circle cx="410.3" cy="142.3" r="2.0" fill="#2f63f5"/>
<circle cx="397.8" cy="141.0" r="2.0" fill="#2f63f5"/>
<circle cx="401.0" cy="141.0" r="2.0" fill="#2f63f5"/>
<circle cx="402.6" cy="141.9" r="2.0" fill="#2f63f5"/>
<circle cx="395.6" cy="143.2" r="2.0" fill="#2f63f5"/>
<circle cx="398.5" cy="145.1" r="2.0" fill="#2f63f5"/>
<circle cx="397.2" cy="146.7" r="2.0" fill="#2f63f5"/>
<circle cx="405.5" cy="145.8" r="2.0" fill="#2f63f5"/>
<circle cx="402.6" cy="153.1" r="2.0" fill="#2f63f5"/>
<circle cx="411.5" cy="151.8" r="2.0" fill="#2f63f5"/>
<circle cx="414.1" cy="146.7" r="2.0" fill="#2f63f5"/>
<circle cx="415.0" cy="127.0" r="2.0" fill="#2f63f5"/>
<circle cx="418.9" cy="133.7" r="2.0" fill="#2f63f5"/>
<circle cx="418.2" cy="135.9" r="2.0" fill="#2f63f5"/>
<circle cx="420.1" cy="140.4" r="2.0" fill="#2f63f5"/>
<circle cx="422.7" cy="129.5" r="2.0" fill="#2f63f5"/>
<circle cx="424.6" cy="135.3" r="2.0" fill="#2f63f5"/>
<circle cx="420.1" cy="144.2" r="2.0" fill="#2f63f5"/>
<circle cx="423.3" cy="146.7" r="2.0" fill="#2f63f5"/>
<circle cx="414.7" cy="138.1" r="2.0" fill="#2f63f5"/>
<circle cx="391.1" cy="137.2" r="2.0" fill="#2f63f5"/>
<circle cx="392.1" cy="122.5" r="2.0" fill="#2f63f5"/>
<circle cx="375.8" cy="139.4" r="2.0" fill="#2f63f5"/>
<circle cx="365.9" cy="148.3" r="2.0" fill="#2f63f5"/>
<circle cx="376.8" cy="148.0" r="2.0" fill="#2f63f5"/>
<circle cx="374.8" cy="152.1" r="2.0" fill="#2f63f5"/>
<circle cx="373.6" cy="123.8" r="2.0" fill="#2f63f5"/>
<circle cx="376.1" cy="122.5" r="2.0" fill="#2f63f5"/>
<circle cx="380.3" cy="122.9" r="2.0" fill="#2f63f5"/>
<circle cx="380.6" cy="127.0" r="2.0" fill="#2f63f5"/>
<circle cx="375.5" cy="129.5" r="2.0" fill="#2f63f5"/>
<circle cx="376.8" cy="132.4" r="2.0" fill="#2f63f5"/>
<circle cx="381.9" cy="129.5" r="2.0" fill="#2f63f5"/>
<circle cx="388.2" cy="121.9" r="2.0" fill="#2f63f5"/>
<circle cx="388.2" cy="151.2" r="2.0" fill="#2f63f5"/>
<circle cx="374.2" cy="124.5" r="2.0" fill="#2f63f5"/>
<circle cx="381.2" cy="127.6" r="2.0" fill="#2f63f5"/>
<circle cx="376.1" cy="131.5" r="2.0" fill="#2f63f5"/>
<circle cx="433.5" cy="121.9" r="2.0" fill="#2f63f5"/>
<circle cx="441.2" cy="122.2" r="2.0" fill="#2f63f5"/>
<circle cx="438.0" cy="125.4" r="2.0" fill="#2f63f5"/>
<circle cx="429.1" cy="126.4" r="2.0" fill="#2f63f5"/>
<circle cx="439.0" cy="129.5" r="2.0" fill="#2f63f5"/>
<circle cx="435.5" cy="132.7" r="2.0" fill="#2f63f5"/>
<circle cx="444.4" cy="133.7" r="2.0" fill="#2f63f5"/>
<circle cx="452.7" cy="133.4" r="2.0" fill="#2f63f5"/>
<circle cx="454.0" cy="130.2" r="2.0" fill="#2f63f5"/>
<circle cx="449.5" cy="123.2" r="2.0" fill="#2f63f5"/>
<circle cx="452.7" cy="121.9" r="2.0" fill="#2f63f5"/>
<circle cx="459.1" cy="125.7" r="2.0" fill="#2f63f5"/>
<circle cx="444.1" cy="139.4" r="2.0" fill="#2f63f5"/>
<circle cx="447.6" cy="139.1" r="2.0" fill="#2f63f5"/>
<circle cx="445.7" cy="143.2" r="2.0" fill="#2f63f5"/>
<circle cx="435.5" cy="143.9" r="2.0" fill="#2f63f5"/>
<circle cx="431.6" cy="139.1" r="2.0" fill="#2f63f5"/>
<circle cx="429.4" cy="141.6" r="2.0" fill="#2f63f5"/>
<circle cx="428.1" cy="145.1" r="2.0" fill="#2f63f5"/>
<circle cx="425.9" cy="148.0" r="2.0" fill="#2f63f5"/>
<circle cx="431.3" cy="150.2" r="2.0" fill="#2f63f5"/>
<circle cx="438.3" cy="151.2" r="2.0" fill="#2f63f5"/>
<circle cx="435.8" cy="153.1" r="2.0" fill="#2f63f5"/>
<circle cx="453.3" cy="148.9" r="2.0" fill="#2f63f5"/>
<circle cx="444.4" cy="154.4" r="2.0" fill="#2f63f5"/>
<circle cx="430.4" cy="120.6" r="2.0" fill="#2f63f5"/>
<circle cx="438.7" cy="140.7" r="2.0" fill="#2f63f5"/>
<circle cx="468.3" cy="126.4" r="2.0" fill="#2f63f5"/>
<circle cx="475.3" cy="126.4" r="2.0" fill="#2f63f5"/>
<circle cx="469.0" cy="131.5" r="2.0" fill="#2f63f5"/>
<circle cx="475.3" cy="135.3" r="2.0" fill="#2f63f5"/>
<circle cx="466.4" cy="136.2" r="2.0" fill="#2f63f5"/>
<circle cx="461.9" cy="137.8" r="2.0" fill="#2f63f5"/>
<circle cx="464.5" cy="144.5" r="2.0" fill="#2f63f5"/>
<circle cx="465.5" cy="120.3" r="2.0" fill="#2f63f5"/>
<circle cx="480.4" cy="120.0" r="2.0" fill="#2f63f5"/>
<circle cx="462.6" cy="122.2" r="2.0" fill="#2f63f5"/>
<circle cx="366.9" cy="90.7" r="2.0" fill="#2f63f5"/>
<circle cx="356.0" cy="95.5" r="2.0" fill="#2f63f5"/>
<circle cx="357.9" cy="99.6" r="2.0" fill="#2f63f5"/>
<circle cx="355.4" cy="98.7" r="2.0" fill="#2f63f5"/>
<circle cx="360.8" cy="104.4" r="2.0" fill="#2f63f5"/>
<circle cx="375.8" cy="104.4" r="2.0" fill="#2f63f5"/>
<circle cx="360.5" cy="107.3" r="2.0" fill="#2f63f5"/>
<circle cx="364.0" cy="107.6" r="2.0" fill="#2f63f5"/>
<circle cx="364.0" cy="110.1" r="2.0" fill="#2f63f5"/>
<circle cx="357.0" cy="109.5" r="2.0" fill="#2f63f5"/>
<circle cx="369.7" cy="108.6" r="2.0" fill="#2f63f5"/>
<circle cx="372.9" cy="107.3" r="2.0" fill="#2f63f5"/>
<circle cx="371.3" cy="110.1" r="2.0" fill="#2f63f5"/>
<circle cx="367.5" cy="111.7" r="2.0" fill="#2f63f5"/>
<circle cx="375.8" cy="111.4" r="2.0" fill="#2f63f5"/>
<circle cx="360.8" cy="113.0" r="2.0" fill="#2f63f5"/>
<circle cx="370.7" cy="114.3" r="2.0" fill="#2f63f5"/>
<circle cx="365.6" cy="115.6" r="2.0" fill="#2f63f5"/>
<circle cx="373.9" cy="117.5" r="2.0" fill="#2f63f5"/>
<circle cx="378.7" cy="116.2" r="2.0" fill="#2f63f5"/>
<circle cx="378.7" cy="118.7" r="2.0" fill="#2f63f5"/>
<circle cx="389.8" cy="111.4" r="2.0" fill="#2f63f5"/>
<circle cx="388.9" cy="119.4" r="2.0" fill="#2f63f5"/>
<circle cx="419.5" cy="105.4" r="2.0" fill="#2f63f5"/>
<circle cx="423.7" cy="108.6" r="2.0" fill="#2f63f5"/>
<circle cx="399.7" cy="111.4" r="2.0" fill="#2f63f5"/>
<circle cx="412.5" cy="111.4" r="2.0" fill="#2f63f5"/>
<circle cx="397.5" cy="114.6" r="2.0" fill="#2f63f5"/>
<circle cx="421.4" cy="113.3" r="2.0" fill="#2f63f5"/>
<circle cx="419.2" cy="115.6" r="2.0" fill="#2f63f5"/>
<circle cx="424.9" cy="113.0" r="2.0" fill="#2f63f5"/>
<circle cx="409.3" cy="116.2" r="2.0" fill="#2f63f5"/>
<circle cx="411.2" cy="116.5" r="2.0" fill="#2f63f5"/>
<circle cx="393.7" cy="118.1" r="2.0" fill="#2f63f5"/>
<circle cx="401.3" cy="118.4" r="2.0" fill="#2f63f5"/>
<circle cx="405.8" cy="118.4" r="2.0" fill="#2f63f5"/>
<circle cx="432.3" cy="117.1" r="2.0" fill="#2f63f5"/>
<circle cx="456.2" cy="112.4" r="2.0" fill="#2f63f5"/>
<circle cx="458.4" cy="115.6" r="2.0" fill="#2f63f5"/>
<circle cx="460.0" cy="118.1" r="2.0" fill="#2f63f5"/>
<circle cx="425.6" cy="119.4" r="2.0" fill="#2f63f5"/>
<circle cx="478.3" cy="86.6" r="2.0" fill="#2f63f5"/>
<circle cx="476.1" cy="89.8" r="2.0" fill="#2f63f5"/>
<circle cx="482.5" cy="93.6" r="2.0" fill="#2f63f5"/>
<circle cx="488.2" cy="94.6" r="2.0" fill="#2f63f5"/>
<circle cx="476.1" cy="95.5" r="2.0" fill="#2f63f5"/>
<circle cx="471.0" cy="97.4" r="2.0" fill="#2f63f5"/>
<circle cx="471.3" cy="100.0" r="2.0" fill="#2f63f5"/>
<circle cx="472.6" cy="101.9" r="2.0" fill="#2f63f5"/>
<circle cx="487.2" cy="105.4" r="2.0" fill="#2f63f5"/>
<circle cx="469.2" cy="106.6" r="2.0" fill="#2f63f5"/>
<circle cx="474.2" cy="110.1" r="2.0" fill="#2f63f5"/>
<circle cx="465.2" cy="111.1" r="2.0" fill="#2f63f5"/>
<circle cx="465.2" cy="114.9" r="2.0" fill="#2f63f5"/>
<circle cx="472.2" cy="115.6" r="2.0" fill="#2f63f5"/>
<circle cx="479.3" cy="113.3" r="2.0" fill="#2f63f5"/>
<circle cx="482.8" cy="85.0" r="2.0" fill="#2f63f5"/>
<circle cx="336.0" cy="58.9" r="2.0" fill="#2f63f5"/>
<circle cx="338.0" cy="66.9" r="2.0" fill="#2f63f5"/>
<circle cx="351.9" cy="79.6" r="2.0" fill="#2f63f5"/>
<circle cx="351.9" cy="80.7" r="2.0" fill="#2f63f5"/>
<circle cx="351.9" cy="90.5" r="2.0" fill="#2f63f5"/>
<circle cx="347.7" cy="95.8" r="2.0" fill="#2f63f5"/>
<circle cx="352.4" cy="94.6" r="2.0" fill="#2f63f5"/>
<circle cx="351.9" cy="98.6" r="2.0" fill="#2f63f5"/>
<circle cx="350.8" cy="101.6" r="2.0" fill="#2f63f5"/>
<circle cx="482.4" cy="74.6" r="2.0" fill="#2f63f5"/>
<circle cx="479.3" cy="77.1" r="2.0" fill="#2f63f5"/>
<circle cx="474.4" cy="81.5" r="2.0" fill="#2f63f5"/>
<circle cx="486.4" cy="82.8" r="2.0" fill="#2f63f5"/>
<circle cx="508.1" cy="35.1" r="2.0" fill="#2f63f5"/>
<circle cx="511.0" cy="39.8" r="2.0" fill="#2f63f5"/>
<circle cx="504.1" cy="46.9" r="2.0" fill="#2f63f5"/>
<circle cx="504.1" cy="51.2" r="2.0" fill="#2f63f5"/>
<circle cx="495.2" cy="62.9" r="2.0" fill="#2f63f5"/>
<circle cx="496.3" cy="66.8" r="2.0" fill="#2f63f5"/>
<circle cx="363.9" cy="160.2" r="2.0" fill="#2f63f5"/>
<circle cx="389.9" cy="169.2" r="2.0" fill="#2f63f5"/>
<circle cx="403.5" cy="169.9" r="2.0" fill="#2f63f5"/>
<circle cx="410.6" cy="167.0" r="2.0" fill="#2f63f5"/>
<circle cx="415.5" cy="163.2" r="2.0" fill="#2f63f5"/>
<circle cx="418.6" cy="174.9" r="2.0" fill="#2f63f5"/>
<circle cx="424.3" cy="157.7" r="2.0" fill="#2f63f5"/>
<circle cx="435.6" cy="158.3" r="2.0" fill="#2f63f5"/>
<circle cx="437.2" cy="160.4" r="2.0" fill="#2f63f5"/>
<circle cx="441.2" cy="168.1" r="2.0" fill="#2f63f5"/>
<circle cx="443.5" cy="171.9" r="2.0" fill="#2f63f5"/>
<circle cx="441.4" cy="176.0" r="2.0" fill="#2f63f5"/>
<circle cx="435.6" cy="175.7" r="2.0" fill="#2f63f5"/>
<circle cx="398.9" cy="156.6" r="2.0" fill="#2f63f5"/>
<circle cx="387.8" cy="192.1" r="2.0" fill="#2f63f5"/>
<circle cx="397.6" cy="188.0" r="2.0" fill="#2f63f5"/>
<circle cx="412.4" cy="189.9" r="2.0" fill="#2f63f5"/>
<circle cx="416.5" cy="193.0" r="2.0" fill="#2f63f5"/>
<circle cx="419.4" cy="199.1" r="2.0" fill="#2f63f5"/>
<circle cx="409.5" cy="204.9" r="2.0" fill="#2f63f5"/>
<circle cx="442.4" cy="196.8" r="2.0" fill="#2f63f5"/>
<circle cx="434.4" cy="216.9" r="2.0" fill="#2f63f5"/>
<circle cx="442.4" cy="220.9" r="2.0" fill="#2f63f5"/>
<circle cx="445.5" cy="226.8" r="2.0" fill="#2f63f5"/>
<circle cx="459.3" cy="221.9" r="2.0" fill="#2f63f5"/>
<circle cx="476.2" cy="225.9" r="2.0" fill="#2f63f5"/>
<circle cx="484.1" cy="231.8" r="2.0" fill="#2f63f5"/>
<circle cx="474.3" cy="245.8" r="2.0" fill="#2f63f5"/>
<circle cx="394.6" cy="128.0" r="1.35" fill="#c4c4c4" stroke="#1a1a1a" stroke-width="1.35"/>
<circle cx="391.1" cy="131.1" r="1.35" fill="#c4c4c4" stroke="#1a1a1a" stroke-width="1.35"/>
<circle cx="395.9" cy="134.3" r="1.35" fill="#c4c4c4" stroke="#1a1a1a" stroke-width="1.35"/>
<circle cx="400.7" cy="133.7" r="1.35" fill="#c4c4c4" stroke="#1a1a1a" stroke-width="1.35"/>
<circle cx="402.9" cy="133.7" r="1.35" fill="#c4c4c4" stroke="#1a1a1a" stroke-width="1.35"/>
<circle cx="407.7" cy="135.3" r="1.35" fill="#c4c4c4" stroke="#1a1a1a" stroke-width="1.35"/>
<circle cx="400.7" cy="138.5" r="1.35" fill="#c4c4c4" stroke="#1a1a1a" stroke-width="1.35"/>
<circle cx="393.0" cy="139.1" r="1.35" fill="#c4c4c4" stroke="#1a1a1a" stroke-width="1.35"/>
<circle cx="390.8" cy="139.1" r="1.35" fill="#c4c4c4" stroke="#1a1a1a" stroke-width="1.35"/>
<circle cx="411.2" cy="125.4" r="1.35" fill="#c4c4c4" stroke="#1a1a1a" stroke-width="1.35"/>
<circle cx="414.1" cy="122.5" r="1.35" fill="#c4c4c4" stroke="#1a1a1a" stroke-width="1.35"/>
<circle cx="410.6" cy="129.5" r="1.35" fill="#c4c4c4" stroke="#1a1a1a" stroke-width="1.35"/>
<circle cx="414.7" cy="129.9" r="1.35" fill="#c4c4c4" stroke="#1a1a1a" stroke-width="1.35"/>
<circle cx="415.4" cy="130.5" r="1.35" fill="#c4c4c4" stroke="#1a1a1a" stroke-width="1.35"/>
<circle cx="420.1" cy="127.6" r="1.35" fill="#c4c4c4" stroke="#1a1a1a" stroke-width="1.35"/>
<circle cx="420.8" cy="130.5" r="1.35" fill="#c4c4c4" stroke="#1a1a1a" stroke-width="1.35"/>
<circle cx="415.7" cy="136.2" r="1.35" fill="#c4c4c4" stroke="#1a1a1a" stroke-width="1.35"/>
<circle cx="419.5" cy="138.5" r="1.35" fill="#c4c4c4" stroke="#1a1a1a" stroke-width="1.35"/>
<circle cx="413.8" cy="141.3" r="1.35" fill="#c4c4c4" stroke="#1a1a1a" stroke-width="1.35"/>
<circle cx="412.2" cy="147.7" r="1.35" fill="#c4c4c4" stroke="#1a1a1a" stroke-width="1.35"/>
<circle cx="412.8" cy="148.3" r="1.35" fill="#c4c4c4" stroke="#1a1a1a" stroke-width="1.35"/>
<circle cx="417.6" cy="144.2" r="1.35" fill="#c4c4c4" stroke="#1a1a1a" stroke-width="1.35"/>
<circle cx="392.7" cy="151.2" r="1.35" fill="#c4c4c4" stroke="#1a1a1a" stroke-width="1.35"/>
<circle cx="421.7" cy="153.1" r="1.35" fill="#c4c4c4" stroke="#1a1a1a" stroke-width="1.35"/>
<circle cx="424.6" cy="123.8" r="1.35" fill="#c4c4c4" stroke="#1a1a1a" stroke-width="1.35"/>
<circle cx="403.6" cy="120.6" r="1.35" fill="#c4c4c4" stroke="#1a1a1a" stroke-width="1.35"/>
<circle cx="391.1" cy="122.2" r="1.35" fill="#c4c4c4" stroke="#1a1a1a" stroke-width="1.35"/>
<circle cx="366.9" cy="138.5" r="1.35" fill="#c4c4c4" stroke="#1a1a1a" stroke-width="1.35"/>
<circle cx="363.7" cy="146.1" r="1.35" fill="#c4c4c4" stroke="#1a1a1a" stroke-width="1.35"/>
<circle cx="379.0" cy="145.1" r="1.35" fill="#c4c4c4" stroke="#1a1a1a" stroke-width="1.35"/>
<circle cx="384.7" cy="148.3" r="1.35" fill="#c4c4c4" stroke="#1a1a1a" stroke-width="1.35"/>
<circle cx="387.9" cy="150.5" r="1.35" fill="#c4c4c4" stroke="#1a1a1a" stroke-width="1.35"/>
<circle cx="385.7" cy="138.5" r="1.35" fill="#c4c4c4" stroke="#1a1a1a" stroke-width="1.35"/>
<circle cx="381.9" cy="134.3" r="1.35" fill="#c4c4c4" stroke="#1a1a1a" stroke-width="1.35"/>
<circle cx="385.1" cy="133.0" r="1.35" fill="#c4c4c4" stroke="#1a1a1a" stroke-width="1.35"/>
<circle cx="387.6" cy="132.4" r="1.35" fill="#c4c4c4" stroke="#1a1a1a" stroke-width="1.35"/>
<circle cx="370.7" cy="126.4" r="1.35" fill="#c4c4c4" stroke="#1a1a1a" stroke-width="1.35"/>
<circle cx="372.9" cy="128.6" r="1.35" fill="#c4c4c4" stroke="#1a1a1a" stroke-width="1.35"/>
<circle cx="377.7" cy="126.0" r="1.35" fill="#c4c4c4" stroke="#1a1a1a" stroke-width="1.35"/>
<circle cx="378.0" cy="128.0" r="1.35" fill="#c4c4c4" stroke="#1a1a1a" stroke-width="1.35"/>
<circle cx="367.5" cy="121.6" r="1.35" fill="#c4c4c4" stroke="#1a1a1a" stroke-width="1.35"/>
<circle cx="370.4" cy="120.6" r="1.35" fill="#c4c4c4" stroke="#1a1a1a" stroke-width="1.35"/>
<circle cx="361.8" cy="120.3" r="1.35" fill="#c4c4c4" stroke="#1a1a1a" stroke-width="1.35"/>
<circle cx="384.7" cy="124.5" r="1.35" fill="#c4c4c4" stroke="#1a1a1a" stroke-width="1.35"/>
<circle cx="385.7" cy="127.0" r="1.35" fill="#c4c4c4" stroke="#1a1a1a" stroke-width="1.35"/>
<circle cx="443.8" cy="124.5" r="1.35" fill="#c4c4c4" stroke="#1a1a1a" stroke-width="1.35"/>
<circle cx="451.4" cy="125.1" r="1.35" fill="#c4c4c4" stroke="#1a1a1a" stroke-width="1.35"/>
<circle cx="434.8" cy="127.3" r="1.35" fill="#c4c4c4" stroke="#1a1a1a" stroke-width="1.35"/>
<circle cx="429.4" cy="129.2" r="1.35" fill="#c4c4c4" stroke="#1a1a1a" stroke-width="1.35"/>
<circle cx="430.0" cy="129.9" r="1.35" fill="#c4c4c4" stroke="#1a1a1a" stroke-width="1.35"/>
<circle cx="429.1" cy="132.7" r="1.35" fill="#c4c4c4" stroke="#1a1a1a" stroke-width="1.35"/>
<circle cx="432.3" cy="133.4" r="1.35" fill="#c4c4c4" stroke="#1a1a1a" stroke-width="1.35"/>
<circle cx="441.8" cy="129.9" r="1.35" fill="#c4c4c4" stroke="#1a1a1a" stroke-width="1.35"/>
<circle cx="442.5" cy="130.5" r="1.35" fill="#c4c4c4" stroke="#1a1a1a" stroke-width="1.35"/>
<circle cx="444.4" cy="131.8" r="1.35" fill="#c4c4c4" stroke="#1a1a1a" stroke-width="1.35"/>
<circle cx="448.9" cy="130.2" r="1.35" fill="#c4c4c4" stroke="#1a1a1a" stroke-width="1.35"/>
<circle cx="449.5" cy="130.8" r="1.35" fill="#c4c4c4" stroke="#1a1a1a" stroke-width="1.35"/>
<circle cx="436.7" cy="134.0" r="1.35" fill="#c4c4c4" stroke="#1a1a1a" stroke-width="1.35"/>
<circle cx="437.4" cy="134.6" r="1.35" fill="#c4c4c4" stroke="#1a1a1a" stroke-width="1.35"/>
<circle cx="438.0" cy="136.9" r="1.35" fill="#c4c4c4" stroke="#1a1a1a" stroke-width="1.35"/>
<circle cx="435.1" cy="139.4" r="1.35" fill="#c4c4c4" stroke="#1a1a1a" stroke-width="1.35"/>
<circle cx="426.5" cy="140.4" r="1.35" fill="#c4c4c4" stroke="#1a1a1a" stroke-width="1.35"/>
<circle cx="427.2" cy="141.0" r="1.35" fill="#c4c4c4" stroke="#1a1a1a" stroke-width="1.35"/>
<circle cx="457.2" cy="135.3" r="1.35" fill="#c4c4c4" stroke="#1a1a1a" stroke-width="1.35"/>
<circle cx="456.2" cy="138.5" r="1.35" fill="#c4c4c4" stroke="#1a1a1a" stroke-width="1.35"/>
<circle cx="459.1" cy="128.3" r="1.35" fill="#c4c4c4" stroke="#1a1a1a" stroke-width="1.35"/>
<circle cx="460.0" cy="131.5" r="1.35" fill="#c4c4c4" stroke="#1a1a1a" stroke-width="1.35"/>
<circle cx="471.2" cy="121.6" r="1.35" fill="#c4c4c4" stroke="#1a1a1a" stroke-width="1.35"/>
<circle cx="463.2" cy="135.3" r="1.35" fill="#c4c4c4" stroke="#1a1a1a" stroke-width="1.35"/>
<circle cx="470.2" cy="135.3" r="1.35" fill="#c4c4c4" stroke="#1a1a1a" stroke-width="1.35"/>
<circle cx="463.2" cy="142.9" r="1.35" fill="#c4c4c4" stroke="#1a1a1a" stroke-width="1.35"/>
<circle cx="463.9" cy="143.5" r="1.35" fill="#c4c4c4" stroke="#1a1a1a" stroke-width="1.35"/>
<circle cx="461.0" cy="120.3" r="1.35" fill="#c4c4c4" stroke="#1a1a1a" stroke-width="1.35"/>
<circle cx="461.6" cy="121.0" r="1.35" fill="#c4c4c4" stroke="#1a1a1a" stroke-width="1.35"/>
<circle cx="358.3" cy="114.6" r="1.35" fill="#c4c4c4" stroke="#1a1a1a" stroke-width="1.35"/>
<circle cx="358.9" cy="115.2" r="1.35" fill="#c4c4c4" stroke="#1a1a1a" stroke-width="1.35"/>
<circle cx="356.3" cy="117.5" r="1.35" fill="#c4c4c4" stroke="#1a1a1a" stroke-width="1.35"/>
<circle cx="362.1" cy="117.5" r="1.35" fill="#c4c4c4" stroke="#1a1a1a" stroke-width="1.35"/>
<circle cx="367.8" cy="118.7" r="1.35" fill="#c4c4c4" stroke="#1a1a1a" stroke-width="1.35"/>
<circle cx="413.8" cy="119.4" r="1.35" fill="#c4c4c4" stroke="#1a1a1a" stroke-width="1.35"/>
<circle cx="421.7" cy="118.4" r="1.35" fill="#c4c4c4" stroke="#1a1a1a" stroke-width="1.35"/>
<circle cx="489.8" cy="100.3" r="1.35" fill="#c4c4c4" stroke="#1a1a1a" stroke-width="1.35"/>
<circle cx="474.2" cy="112.4" r="1.35" fill="#c4c4c4" stroke="#1a1a1a" stroke-width="1.35"/>
<circle cx="478.6" cy="114.9" r="1.35" fill="#c4c4c4" stroke="#1a1a1a" stroke-width="1.35"/>
<circle cx="479.3" cy="115.6" r="1.35" fill="#c4c4c4" stroke="#1a1a1a" stroke-width="1.35"/>
<circle cx="480.2" cy="116.5" r="1.35" fill="#c4c4c4" stroke="#1a1a1a" stroke-width="1.35"/>
<circle cx="480.9" cy="117.1" r="1.35" fill="#c4c4c4" stroke="#1a1a1a" stroke-width="1.35"/>
<circle cx="340.1" cy="99.5" r="1.35" fill="#c4c4c4" stroke="#1a1a1a" stroke-width="1.35"/>
<circle cx="343.1" cy="104.7" r="1.35" fill="#c4c4c4" stroke="#1a1a1a" stroke-width="1.35"/>
<circle cx="505.2" cy="91.8" r="1.35" fill="#c4c4c4" stroke="#1a1a1a" stroke-width="1.35"/>
<circle cx="499.2" cy="99.5" r="1.35" fill="#c4c4c4" stroke="#1a1a1a" stroke-width="1.35"/>
<circle cx="493.2" cy="104.7" r="1.35" fill="#c4c4c4" stroke="#1a1a1a" stroke-width="1.35"/>
<circle cx="516.1" cy="78.9" r="1.35" fill="#c4c4c4" stroke="#1a1a1a" stroke-width="1.35"/>
<circle cx="415.5" cy="180.9" r="1.35" fill="#c4c4c4" stroke="#1a1a1a" stroke-width="1.35"/>
<circle cx="396.9" cy="157.7" r="1.35" fill="#c4c4c4" stroke="#1a1a1a" stroke-width="1.35"/>
<circle cx="407.7" cy="157.7" r="1.35" fill="#c4c4c4" stroke="#1a1a1a" stroke-width="1.35"/>
<circle cx="418.6" cy="156.1" r="1.35" fill="#c4c4c4" stroke="#1a1a1a" stroke-width="1.35"/>
<circle cx="438.5" cy="163.0" r="1.35" fill="#c4c4c4" stroke="#1a1a1a" stroke-width="1.35"/>
<circle cx="447.4" cy="157.0" r="1.35" fill="#c4c4c4" stroke="#1a1a1a" stroke-width="1.35"/>
<circle cx="462.4" cy="175.2" r="1.35" fill="#c4c4c4" stroke="#1a1a1a" stroke-width="1.35"/>
<circle cx="476.2" cy="179.0" r="1.35" fill="#c4c4c4" stroke="#1a1a1a" stroke-width="1.35"/>
<text transform="translate(361.6,34.8) scale(0.9,1)" font-family="'Liberation Sans', sans-serif" font-size="12.6" fill="#111" stroke="#111" stroke-width="0.35">B</text>
<text x="434.7" y="263.6" text-anchor="middle" font-family="'Liberation Serif', serif" font-size="13.3" font-weight="bold" fill="#111">Pred(ET0, mm/day)</text>
<text transform="translate(302.1,131.3) rotate(-90)" text-anchor="middle" font-family="'Liberation Serif', serif" font-size="13.1" font-weight="bold" fill="#111">Standardized residuals</text>
<rect x="0" y="264.2" width="550" height="340" fill="#fff"/>
<rect x="47.7" y="268.2" width="490.3" height="260.3" fill="none" stroke="#1a1a1a" stroke-width="1.4"/>
<line x1="43.5" y1="528.5" x2="51.900000000000006" y2="528.5" stroke="#1a1a1a" stroke-width="1.3"/>
<text x="36.1" y="532.4" text-anchor="end" font-family="'Liberation Serif', serif" font-size="13.3" fill="#0a0a0a">0</text>
<line x1="47.7" y1="524.7" x2="47.7" y2="532.1" stroke="#1a1a1a" stroke-width="1.3"/>
<text x="47.7" y="548.9" text-anchor="middle" font-family="'Liberation Serif', serif" font-size="13.3" fill="#0a0a0a">0</text>
<line x1="43.5" y1="491.3" x2="51.900000000000006" y2="491.3" stroke="#1a1a1a" stroke-width="1.3"/>
<text x="36.1" y="495.2" text-anchor="end" font-family="'Liberation Serif', serif" font-size="13.3" fill="#0a0a0a">2</text>
<line x1="117.7" y1="524.7" x2="117.7" y2="532.1" stroke="#1a1a1a" stroke-width="1.3"/>
<text x="117.7" y="548.9" text-anchor="middle" font-family="'Liberation Serif', serif" font-size="13.3" fill="#0a0a0a">2</text>
<line x1="43.5" y1="454.1" x2="51.900000000000006" y2="454.1" stroke="#1a1a1a" stroke-width="1.3"/>
<text x="36.1" y="458.0" text-anchor="end" font-family="'Liberation Serif', serif" font-size="13.3" fill="#0a0a0a">4</text>
<line x1="187.8" y1="524.7" x2="187.8" y2="532.1" stroke="#1a1a1a" stroke-width="1.3"/>
<text x="187.8" y="548.9" text-anchor="middle" font-family="'Liberation Serif', serif" font-size="13.3" fill="#0a0a0a">4</text>
<line x1="43.5" y1="416.9" x2="51.900000000000006" y2="416.9" stroke="#1a1a1a" stroke-width="1.3"/>
<text x="36.1" y="420.8" text-anchor="end" font-family="'Liberation Serif', serif" font-size="13.3" fill="#0a0a0a">6</text>
<line x1="257.8" y1="524.7" x2="257.8" y2="532.1" stroke="#1a1a1a" stroke-width="1.3"/>
<text x="257.8" y="548.9" text-anchor="middle" font-family="'Liberation Serif', serif" font-size="13.3" fill="#0a0a0a">6</text>
<line x1="43.5" y1="379.8" x2="51.900000000000006" y2="379.8" stroke="#1a1a1a" stroke-width="1.3"/>
<text x="36.1" y="383.7" text-anchor="end" font-family="'Liberation Serif', serif" font-size="13.3" fill="#0a0a0a">8</text>
<line x1="327.9" y1="524.7" x2="327.9" y2="532.1" stroke="#1a1a1a" stroke-width="1.3"/>
<text x="327.9" y="548.9" text-anchor="middle" font-family="'Liberation Serif', serif" font-size="13.3" fill="#0a0a0a">8</text>
<line x1="43.5" y1="342.6" x2="51.900000000000006" y2="342.6" stroke="#1a1a1a" stroke-width="1.3"/>
<text x="36.1" y="346.5" text-anchor="end" font-family="'Liberation Serif', serif" font-size="13.3" fill="#0a0a0a">10</text>
<line x1="397.9" y1="524.7" x2="397.9" y2="532.1" stroke="#1a1a1a" stroke-width="1.3"/>
<text x="397.9" y="548.9" text-anchor="middle" font-family="'Liberation Serif', serif" font-size="13.3" fill="#0a0a0a">10</text>
<line x1="43.5" y1="305.4" x2="51.900000000000006" y2="305.4" stroke="#1a1a1a" stroke-width="1.3"/>
<text x="36.1" y="309.3" text-anchor="end" font-family="'Liberation Serif', serif" font-size="13.3" fill="#0a0a0a">12</text>
<line x1="468.0" y1="524.7" x2="468.0" y2="532.1" stroke="#1a1a1a" stroke-width="1.3"/>
<text x="468.0" y="548.9" text-anchor="middle" font-family="'Liberation Serif', serif" font-size="13.3" fill="#0a0a0a">12</text>
<line x1="43.5" y1="268.2" x2="51.900000000000006" y2="268.2" stroke="#1a1a1a" stroke-width="1.3"/>
<text x="36.1" y="272.1" text-anchor="end" font-family="'Liberation Serif', serif" font-size="13.3" fill="#0a0a0a">14</text>
<line x1="538.0" y1="524.7" x2="538.0" y2="532.1" stroke="#1a1a1a" stroke-width="1.3"/>
<text x="538.0" y="548.9" text-anchor="middle" font-family="'Liberation Serif', serif" font-size="13.3" fill="#0a0a0a">14</text>
<line x1="47.7" y1="528.5" x2="538.0" y2="268.2" stroke="#2a2a2a" stroke-width="1.15" stroke-dasharray="3.3 2.2"/>
<polyline fill="none" stroke="#f94444" stroke-width="1.25" stroke-linejoin="round" points="47.7,507.5 76.4,492.9 112.7,474.6 130.0,465.9 150.0,455.7 170.0,445.0 190.0,434.4 210.0,424.0 230.0,413.3 251.8,402.4 273.6,390.1 295.5,377.7 317.3,366.7 339.1,354.0 350.0,348.3 360.0,342.2 370.0,336.8 380.0,331.3 390.0,326.0 400.0,320.3 410.0,314.7 420.0,309.3 430.0,303.9 440.0,298.0 450.0,292.2 460.0,286.2 466.0,282.9 472.0,279.2 478.0,275.6 485.6,271.6"/>
<polyline fill="none" stroke="#f94444" stroke-width="1.25" stroke-linejoin="round" points="85.1,528.5 112.7,513.2 130.0,504.2 150.0,493.4 170.0,482.0 190.0,471.1 210.0,460.5 230.0,449.5 251.8,437.9 273.6,425.7 295.5,414.0 317.3,403.2 339.1,392.1 350.0,386.0 375.0,373.7 400.0,361.7 410.0,356.9 420.0,351.9 430.0,347.2 440.0,342.6 450.0,337.6 460.0,333.0 470.0,328.6 480.0,323.7 485.6,320.4"/>
<circle cx="188.4" cy="451.0" r="2.0" fill="#2f63f5"/>
<circle cx="188.4" cy="451.8" r="2.0" fill="#2f63f5"/>
<circle cx="196.3" cy="448.9" r="2.0" fill="#2f63f5"/>
<circle cx="173.5" cy="460.4" r="2.0" fill="#2f63f5"/>
<circle cx="181.3" cy="457.7" r="2.0" fill="#2f63f5"/>
<circle cx="174.8" cy="462.1" r="2.0" fill="#2f63f5"/>
<circle cx="198.2" cy="449.1" r="2.0" fill="#2f63f5"/>
<circle cx="193.0" cy="453.1" r="2.0" fill="#2f63f5"/>
<circle cx="203.4" cy="448.8" r="2.0" fill="#2f63f5"/>
<circle cx="208.0" cy="446.9" r="2.0" fill="#2f63f5"/>
<circle cx="182.6" cy="460.0" r="2.0" fill="#2f63f5"/>
<circle cx="189.1" cy="456.6" r="2.0" fill="#2f63f5"/>
<circle cx="192.3" cy="455.1" r="2.0" fill="#2f63f5"/>
<circle cx="178.0" cy="463.1" r="2.0" fill="#2f63f5"/>
<circle cx="183.9" cy="460.6" r="2.0" fill="#2f63f5"/>
<circle cx="181.3" cy="462.4" r="2.0" fill="#2f63f5"/>
<circle cx="198.2" cy="453.2" r="2.0" fill="#2f63f5"/>
<circle cx="192.3" cy="458.5" r="2.0" fill="#2f63f5"/>
<circle cx="210.6" cy="448.4" r="2.0" fill="#2f63f5"/>
<circle cx="215.8" cy="444.1" r="2.0" fill="#2f63f5"/>
<circle cx="217.7" cy="437.1" r="2.0" fill="#2f63f5"/>
<circle cx="225.5" cy="435.0" r="2.0" fill="#2f63f5"/>
<circle cx="224.2" cy="436.4" r="2.0" fill="#2f63f5"/>
<circle cx="228.1" cy="435.6" r="2.0" fill="#2f63f5"/>
<circle cx="233.4" cy="429.6" r="2.0" fill="#2f63f5"/>
<circle cx="237.3" cy="429.3" r="2.0" fill="#2f63f5"/>
<circle cx="228.1" cy="436.8" r="2.0" fill="#2f63f5"/>
<circle cx="234.7" cy="434.1" r="2.0" fill="#2f63f5"/>
<circle cx="217.1" cy="440.8" r="2.0" fill="#2f63f5"/>
<circle cx="168.9" cy="466.1" r="2.0" fill="#2f63f5"/>
<circle cx="170.9" cy="460.6" r="2.0" fill="#2f63f5"/>
<circle cx="137.7" cy="483.4" r="2.0" fill="#2f63f5"/>
<circle cx="117.5" cy="496.8" r="2.0" fill="#2f63f5"/>
<circle cx="139.6" cy="484.9" r="2.0" fill="#2f63f5"/>
<circle cx="135.7" cy="488.3" r="2.0" fill="#2f63f5"/>
<circle cx="133.1" cy="481.1" r="2.0" fill="#2f63f5"/>
<circle cx="138.3" cy="477.9" r="2.0" fill="#2f63f5"/>
<circle cx="146.8" cy="473.5" r="2.0" fill="#2f63f5"/>
<circle cx="147.4" cy="474.4" r="2.0" fill="#2f63f5"/>
<circle cx="137.0" cy="480.7" r="2.0" fill="#2f63f5"/>
<circle cx="139.6" cy="480.2" r="2.0" fill="#2f63f5"/>
<circle cx="150.0" cy="473.8" r="2.0" fill="#2f63f5"/>
<circle cx="163.1" cy="464.6" r="2.0" fill="#2f63f5"/>
<circle cx="163.1" cy="473.5" r="2.0" fill="#2f63f5"/>
<circle cx="134.4" cy="480.6" r="2.0" fill="#2f63f5"/>
<circle cx="148.7" cy="473.9" r="2.0" fill="#2f63f5"/>
<circle cx="138.3" cy="480.6" r="2.0" fill="#2f63f5"/>
<circle cx="255.5" cy="415.5" r="2.0" fill="#2f63f5"/>
<circle cx="271.1" cy="407.3" r="2.0" fill="#2f63f5"/>
<circle cx="264.6" cy="411.7" r="2.0" fill="#2f63f5"/>
<circle cx="246.4" cy="421.7" r="2.0" fill="#2f63f5"/>
<circle cx="266.5" cy="412.0" r="2.0" fill="#2f63f5"/>
<circle cx="259.4" cy="416.7" r="2.0" fill="#2f63f5"/>
<circle cx="277.6" cy="407.3" r="2.0" fill="#2f63f5"/>
<circle cx="294.5" cy="398.3" r="2.0" fill="#2f63f5"/>
<circle cx="297.1" cy="395.9" r="2.0" fill="#2f63f5"/>
<circle cx="288.0" cy="398.6" r="2.0" fill="#2f63f5"/>
<circle cx="294.5" cy="394.8" r="2.0" fill="#2f63f5"/>
<circle cx="307.6" cy="389.0" r="2.0" fill="#2f63f5"/>
<circle cx="277.0" cy="409.4" r="2.0" fill="#2f63f5"/>
<circle cx="284.1" cy="405.5" r="2.0" fill="#2f63f5"/>
<circle cx="280.2" cy="408.9" r="2.0" fill="#2f63f5"/>
<circle cx="259.4" cy="420.1" r="2.0" fill="#2f63f5"/>
<circle cx="251.6" cy="422.8" r="2.0" fill="#2f63f5"/>
<circle cx="247.0" cy="426.0" r="2.0" fill="#2f63f5"/>
<circle cx="244.4" cy="428.4" r="2.0" fill="#2f63f5"/>
<circle cx="239.9" cy="431.7" r="2.0" fill="#2f63f5"/>
<circle cx="250.9" cy="426.5" r="2.0" fill="#2f63f5"/>
<circle cx="265.2" cy="419.2" r="2.0" fill="#2f63f5"/>
<circle cx="260.0" cy="422.6" r="2.0" fill="#2f63f5"/>
<circle cx="295.8" cy="402.3" r="2.0" fill="#2f63f5"/>
<circle cx="277.6" cy="413.6" r="2.0" fill="#2f63f5"/>
<circle cx="249.0" cy="418.6" r="2.0" fill="#2f63f5"/>
<circle cx="265.9" cy="415.7" r="2.0" fill="#2f63f5"/>
<circle cx="326.4" cy="379.2" r="2.0" fill="#2f63f5"/>
<circle cx="340.7" cy="371.6" r="2.0" fill="#2f63f5"/>
<circle cx="327.7" cy="380.1" r="2.0" fill="#2f63f5"/>
<circle cx="340.7" cy="374.3" r="2.0" fill="#2f63f5"/>
<circle cx="322.5" cy="384.3" r="2.0" fill="#2f63f5"/>
<circle cx="313.4" cy="389.6" r="2.0" fill="#2f63f5"/>
<circle cx="318.6" cy="388.9" r="2.0" fill="#2f63f5"/>
<circle cx="320.6" cy="380.5" r="2.0" fill="#2f63f5"/>
<circle cx="351.2" cy="364.1" r="2.0" fill="#2f63f5"/>
<circle cx="314.7" cy="384.2" r="2.0" fill="#2f63f5"/>
<circle cx="119.4" cy="478.3" r="2.0" fill="#2f63f5"/>
<circle cx="97.3" cy="491.5" r="2.0" fill="#2f63f5"/>
<circle cx="101.2" cy="490.7" r="2.0" fill="#2f63f5"/>
<circle cx="96.0" cy="493.1" r="2.0" fill="#2f63f5"/>
<circle cx="107.1" cy="489.0" r="2.0" fill="#2f63f5"/>
<circle cx="137.7" cy="472.8" r="2.0" fill="#2f63f5"/>
<circle cx="106.4" cy="490.2" r="2.0" fill="#2f63f5"/>
<circle cx="113.6" cy="486.5" r="2.0" fill="#2f63f5"/>
<circle cx="113.6" cy="487.3" r="2.0" fill="#2f63f5"/>
<circle cx="99.3" cy="494.7" r="2.0" fill="#2f63f5"/>
<circle cx="125.3" cy="480.6" r="2.0" fill="#2f63f5"/>
<circle cx="131.8" cy="476.7" r="2.0" fill="#2f63f5"/>
<circle cx="128.6" cy="479.3" r="2.0" fill="#2f63f5"/>
<circle cx="120.7" cy="484.0" r="2.0" fill="#2f63f5"/>
<circle cx="137.7" cy="474.9" r="2.0" fill="#2f63f5"/>
<circle cx="107.1" cy="491.6" r="2.0" fill="#2f63f5"/>
<circle cx="127.3" cy="481.3" r="2.0" fill="#2f63f5"/>
<circle cx="116.8" cy="487.2" r="2.0" fill="#2f63f5"/>
<circle cx="133.8" cy="478.8" r="2.0" fill="#2f63f5"/>
<circle cx="143.5" cy="473.2" r="2.0" fill="#2f63f5"/>
<circle cx="143.5" cy="474.0" r="2.0" fill="#2f63f5"/>
<circle cx="166.3" cy="459.7" r="2.0" fill="#2f63f5"/>
<circle cx="164.4" cy="463.1" r="2.0" fill="#2f63f5"/>
<circle cx="226.8" cy="425.7" r="2.0" fill="#2f63f5"/>
<circle cx="235.3" cy="422.2" r="2.0" fill="#2f63f5"/>
<circle cx="186.5" cy="449.0" r="2.0" fill="#2f63f5"/>
<circle cx="212.5" cy="435.1" r="2.0" fill="#2f63f5"/>
<circle cx="181.9" cy="452.4" r="2.0" fill="#2f63f5"/>
<circle cx="230.7" cy="426.1" r="2.0" fill="#2f63f5"/>
<circle cx="226.2" cy="429.1" r="2.0" fill="#2f63f5"/>
<circle cx="237.9" cy="422.2" r="2.0" fill="#2f63f5"/>
<circle cx="206.0" cy="440.1" r="2.0" fill="#2f63f5"/>
<circle cx="209.9" cy="438.1" r="2.0" fill="#2f63f5"/>
<circle cx="174.1" cy="457.6" r="2.0" fill="#2f63f5"/>
<circle cx="189.7" cy="449.4" r="2.0" fill="#2f63f5"/>
<circle cx="198.9" cy="444.5" r="2.0" fill="#2f63f5"/>
<circle cx="252.9" cy="415.5" r="2.0" fill="#2f63f5"/>
<circle cx="301.7" cy="388.1" r="2.0" fill="#2f63f5"/>
<circle cx="306.3" cy="386.6" r="2.0" fill="#2f63f5"/>
<circle cx="309.5" cy="385.7" r="2.0" fill="#2f63f5"/>
<circle cx="239.2" cy="423.4" r="2.0" fill="#2f63f5"/>
<circle cx="346.8" cy="356.3" r="2.0" fill="#2f63f5"/>
<circle cx="342.2" cy="359.7" r="2.0" fill="#2f63f5"/>
<circle cx="355.3" cy="354.0" r="2.0" fill="#2f63f5"/>
<circle cx="367.0" cy="348.0" r="2.0" fill="#2f63f5"/>
<circle cx="342.2" cy="361.5" r="2.0" fill="#2f63f5"/>
<circle cx="331.8" cy="367.6" r="2.0" fill="#2f63f5"/>
<circle cx="332.5" cy="368.0" r="2.0" fill="#2f63f5"/>
<circle cx="335.1" cy="367.2" r="2.0" fill="#2f63f5"/>
<circle cx="365.0" cy="352.4" r="2.0" fill="#2f63f5"/>
<circle cx="328.3" cy="372.2" r="2.0" fill="#2f63f5"/>
<circle cx="338.3" cy="368.0" r="2.0" fill="#2f63f5"/>
<circle cx="320.1" cy="377.9" r="2.0" fill="#2f63f5"/>
<circle cx="320.1" cy="379.1" r="2.0" fill="#2f63f5"/>
<circle cx="334.4" cy="371.7" r="2.0" fill="#2f63f5"/>
<circle cx="348.7" cy="363.4" r="2.0" fill="#2f63f5"/>
<circle cx="355.9" cy="351.0" r="2.0" fill="#2f63f5"/>
<circle cx="56.5" cy="502.1" r="2.0" fill="#2f63f5"/>
<circle cx="60.6" cy="502.3" r="2.0" fill="#2f63f5"/>
<circle cx="88.9" cy="491.2" r="2.0" fill="#2f63f5"/>
<circle cx="88.9" cy="491.5" r="2.0" fill="#2f63f5"/>
<circle cx="88.9" cy="494.5" r="2.0" fill="#2f63f5"/>
<circle cx="80.4" cy="500.6" r="2.0" fill="#2f63f5"/>
<circle cx="90.0" cy="495.1" r="2.0" fill="#2f63f5"/>
<circle cx="88.9" cy="496.9" r="2.0" fill="#2f63f5"/>
<circle cx="86.6" cy="499.0" r="2.0" fill="#2f63f5"/>
<circle cx="355.1" cy="348.3" r="2.0" fill="#2f63f5"/>
<circle cx="348.8" cy="352.4" r="2.0" fill="#2f63f5"/>
<circle cx="338.8" cy="359.0" r="2.0" fill="#2f63f5"/>
<circle cx="363.3" cy="346.4" r="2.0" fill="#2f63f5"/>
<circle cx="407.5" cy="308.5" r="2.0" fill="#2f63f5"/>
<circle cx="413.6" cy="306.7" r="2.0" fill="#2f63f5"/>
<circle cx="399.5" cy="316.3" r="2.0" fill="#2f63f5"/>
<circle cx="399.5" cy="317.6" r="2.0" fill="#2f63f5"/>
<circle cx="381.2" cy="330.9" r="2.0" fill="#2f63f5"/>
<circle cx="383.4" cy="330.9" r="2.0" fill="#2f63f5"/>
<circle cx="113.4" cy="502.6" r="2.0" fill="#2f63f5"/>
<circle cx="166.5" cy="477.1" r="2.0" fill="#2f63f5"/>
<circle cx="194.2" cy="462.6" r="2.0" fill="#2f63f5"/>
<circle cx="208.7" cy="454.0" r="2.0" fill="#2f63f5"/>
<circle cx="218.7" cy="447.5" r="2.0" fill="#2f63f5"/>
<circle cx="225.0" cy="447.8" r="2.0" fill="#2f63f5"/>
<circle cx="236.6" cy="436.4" r="2.0" fill="#2f63f5"/>
<circle cx="259.6" cy="424.4" r="2.0" fill="#2f63f5"/>
<circle cx="262.9" cy="423.3" r="2.0" fill="#2f63f5"/>
<circle cx="271.2" cy="421.2" r="2.0" fill="#2f63f5"/>
<circle cx="275.9" cy="419.9" r="2.0" fill="#2f63f5"/>
<circle cx="271.4" cy="423.5" r="2.0" fill="#2f63f5"/>
<circle cx="259.6" cy="429.7" r="2.0" fill="#2f63f5"/>
<circle cx="184.8" cy="463.6" r="2.0" fill="#2f63f5"/>
<circle cx="162.1" cy="486.4" r="2.0" fill="#2f63f5"/>
<circle cx="182.2" cy="474.5" r="2.0" fill="#2f63f5"/>
<circle cx="212.4" cy="459.0" r="2.0" fill="#2f63f5"/>
<circle cx="220.7" cy="455.5" r="2.0" fill="#2f63f5"/>
<circle cx="226.7" cy="454.2" r="2.0" fill="#2f63f5"/>
<circle cx="206.4" cy="466.8" r="2.0" fill="#2f63f5"/>
<circle cx="273.6" cy="428.6" r="2.0" fill="#2f63f5"/>
<circle cx="257.2" cy="443.4" r="2.0" fill="#2f63f5"/>
<circle cx="273.6" cy="436.0" r="2.0" fill="#2f63f5"/>
<circle cx="279.8" cy="434.4" r="2.0" fill="#2f63f5"/>
<circle cx="307.9" cy="418.0" r="2.0" fill="#2f63f5"/>
<circle cx="342.6" cy="400.8" r="2.0" fill="#2f63f5"/>
<circle cx="358.7" cy="394.0" r="2.0" fill="#2f63f5"/>
<circle cx="338.6" cy="408.9" r="2.0" fill="#2f63f5"/>
<circle cx="176.1" cy="458.7" r="1.35" fill="#c4c4c4" stroke="#1a1a1a" stroke-width="1.35"/>
<circle cx="168.9" cy="464.4" r="1.35" fill="#c4c4c4" stroke="#1a1a1a" stroke-width="1.35"/>
<circle cx="178.7" cy="461.2" r="1.35" fill="#c4c4c4" stroke="#1a1a1a" stroke-width="1.35"/>
<circle cx="188.4" cy="455.6" r="1.35" fill="#c4c4c4" stroke="#1a1a1a" stroke-width="1.35"/>
<circle cx="193.0" cy="453.2" r="1.35" fill="#c4c4c4" stroke="#1a1a1a" stroke-width="1.35"/>
<circle cx="202.8" cy="449.0" r="1.35" fill="#c4c4c4" stroke="#1a1a1a" stroke-width="1.35"/>
<circle cx="188.4" cy="458.5" r="1.35" fill="#c4c4c4" stroke="#1a1a1a" stroke-width="1.35"/>
<circle cx="172.8" cy="467.2" r="1.35" fill="#c4c4c4" stroke="#1a1a1a" stroke-width="1.35"/>
<circle cx="168.3" cy="469.6" r="1.35" fill="#c4c4c4" stroke="#1a1a1a" stroke-width="1.35"/>
<circle cx="209.9" cy="439.2" r="1.35" fill="#c4c4c4" stroke="#1a1a1a" stroke-width="1.35"/>
<circle cx="215.8" cy="434.3" r="1.35" fill="#c4c4c4" stroke="#1a1a1a" stroke-width="1.35"/>
<circle cx="208.6" cy="442.4" r="1.35" fill="#c4c4c4" stroke="#1a1a1a" stroke-width="1.35"/>
<circle cx="217.1" cy="438.1" r="1.35" fill="#c4c4c4" stroke="#1a1a1a" stroke-width="1.35"/>
<circle cx="218.4" cy="437.8" r="1.35" fill="#c4c4c4" stroke="#1a1a1a" stroke-width="1.35"/>
<circle cx="228.1" cy="430.8" r="1.35" fill="#c4c4c4" stroke="#1a1a1a" stroke-width="1.35"/>
<circle cx="229.4" cy="431.9" r="1.35" fill="#c4c4c4" stroke="#1a1a1a" stroke-width="1.35"/>
<circle cx="219.0" cy="440.9" r="1.35" fill="#c4c4c4" stroke="#1a1a1a" stroke-width="1.35"/>
<circle cx="226.8" cy="438.1" r="1.35" fill="#c4c4c4" stroke="#1a1a1a" stroke-width="1.35"/>
<circle cx="215.1" cy="446.1" r="1.35" fill="#c4c4c4" stroke="#1a1a1a" stroke-width="1.35"/>
<circle cx="211.9" cy="451.6" r="1.35" fill="#c4c4c4" stroke="#1a1a1a" stroke-width="1.35"/>
<circle cx="213.2" cy="451.3" r="1.35" fill="#c4c4c4" stroke="#1a1a1a" stroke-width="1.35"/>
<circle cx="222.9" cy="443.6" r="1.35" fill="#c4c4c4" stroke="#1a1a1a" stroke-width="1.35"/>
<circle cx="172.2" cy="474.8" r="1.35" fill="#c4c4c4" stroke="#1a1a1a" stroke-width="1.35"/>
<circle cx="231.4" cy="444.5" r="1.35" fill="#c4c4c4" stroke="#1a1a1a" stroke-width="1.35"/>
<circle cx="237.3" cy="423.7" r="1.35" fill="#c4c4c4" stroke="#1a1a1a" stroke-width="1.35"/>
<circle cx="194.3" cy="444.6" r="1.35" fill="#c4c4c4" stroke="#1a1a1a" stroke-width="1.35"/>
<circle cx="168.9" cy="459.0" r="1.35" fill="#c4c4c4" stroke="#1a1a1a" stroke-width="1.35"/>
<circle cx="119.4" cy="495.1" r="1.35" fill="#c4c4c4" stroke="#1a1a1a" stroke-width="1.35"/>
<circle cx="112.9" cy="503.2" r="1.35" fill="#c4c4c4" stroke="#1a1a1a" stroke-width="1.35"/>
<circle cx="144.2" cy="486.0" r="1.35" fill="#c4c4c4" stroke="#1a1a1a" stroke-width="1.35"/>
<circle cx="155.9" cy="481.7" r="1.35" fill="#c4c4c4" stroke="#1a1a1a" stroke-width="1.35"/>
<circle cx="162.4" cy="479.6" r="1.35" fill="#c4c4c4" stroke="#1a1a1a" stroke-width="1.35"/>
<circle cx="157.8" cy="474.7" r="1.35" fill="#c4c4c4" stroke="#1a1a1a" stroke-width="1.35"/>
<circle cx="150.0" cy="476.4" r="1.35" fill="#c4c4c4" stroke="#1a1a1a" stroke-width="1.35"/>
<circle cx="156.5" cy="472.1" r="1.35" fill="#c4c4c4" stroke="#1a1a1a" stroke-width="1.35"/>
<circle cx="161.8" cy="469.0" r="1.35" fill="#c4c4c4" stroke="#1a1a1a" stroke-width="1.35"/>
<circle cx="127.3" cy="483.6" r="1.35" fill="#c4c4c4" stroke="#1a1a1a" stroke-width="1.35"/>
<circle cx="131.8" cy="482.6" r="1.35" fill="#c4c4c4" stroke="#1a1a1a" stroke-width="1.35"/>
<circle cx="141.6" cy="475.8" r="1.35" fill="#c4c4c4" stroke="#1a1a1a" stroke-width="1.35"/>
<circle cx="142.2" cy="476.7" r="1.35" fill="#c4c4c4" stroke="#1a1a1a" stroke-width="1.35"/>
<circle cx="120.7" cy="484.2" r="1.35" fill="#c4c4c4" stroke="#1a1a1a" stroke-width="1.35"/>
<circle cx="126.6" cy="480.5" r="1.35" fill="#c4c4c4" stroke="#1a1a1a" stroke-width="1.35"/>
<circle cx="109.0" cy="489.6" r="1.35" fill="#c4c4c4" stroke="#1a1a1a" stroke-width="1.35"/>
<circle cx="155.9" cy="467.3" r="1.35" fill="#c4c4c4" stroke="#1a1a1a" stroke-width="1.35"/>
<circle cx="157.8" cy="467.8" r="1.35" fill="#c4c4c4" stroke="#1a1a1a" stroke-width="1.35"/>
<circle cx="276.3" cy="403.3" r="1.35" fill="#c4c4c4" stroke="#1a1a1a" stroke-width="1.35"/>
<circle cx="291.9" cy="395.4" r="1.35" fill="#c4c4c4" stroke="#1a1a1a" stroke-width="1.35"/>
<circle cx="258.1" cy="414.8" r="1.35" fill="#c4c4c4" stroke="#1a1a1a" stroke-width="1.35"/>
<circle cx="247.0" cy="421.8" r="1.35" fill="#c4c4c4" stroke="#1a1a1a" stroke-width="1.35"/>
<circle cx="248.3" cy="421.5" r="1.35" fill="#c4c4c4" stroke="#1a1a1a" stroke-width="1.35"/>
<circle cx="246.4" cy="424.3" r="1.35" fill="#c4c4c4" stroke="#1a1a1a" stroke-width="1.35"/>
<circle cx="252.9" cy="421.2" r="1.35" fill="#c4c4c4" stroke="#1a1a1a" stroke-width="1.35"/>
<circle cx="272.4" cy="408.7" r="1.35" fill="#c4c4c4" stroke="#1a1a1a" stroke-width="1.35"/>
<circle cx="273.7" cy="408.4" r="1.35" fill="#c4c4c4" stroke="#1a1a1a" stroke-width="1.35"/>
<circle cx="277.6" cy="407.1" r="1.35" fill="#c4c4c4" stroke="#1a1a1a" stroke-width="1.35"/>
<circle cx="286.7" cy="401.3" r="1.35" fill="#c4c4c4" stroke="#1a1a1a" stroke-width="1.35"/>
<circle cx="288.0" cy="401.0" r="1.35" fill="#c4c4c4" stroke="#1a1a1a" stroke-width="1.35"/>
<circle cx="262.0" cy="416.7" r="1.35" fill="#c4c4c4" stroke="#1a1a1a" stroke-width="1.35"/>
<circle cx="263.3" cy="416.4" r="1.35" fill="#c4c4c4" stroke="#1a1a1a" stroke-width="1.35"/>
<circle cx="264.6" cy="417.1" r="1.35" fill="#c4c4c4" stroke="#1a1a1a" stroke-width="1.35"/>
<circle cx="258.7" cy="421.7" r="1.35" fill="#c4c4c4" stroke="#1a1a1a" stroke-width="1.35"/>
<circle cx="241.2" cy="431.6" r="1.35" fill="#c4c4c4" stroke="#1a1a1a" stroke-width="1.35"/>
<circle cx="242.5" cy="431.3" r="1.35" fill="#c4c4c4" stroke="#1a1a1a" stroke-width="1.35"/>
<circle cx="303.6" cy="395.4" r="1.35" fill="#c4c4c4" stroke="#1a1a1a" stroke-width="1.35"/>
<circle cx="301.7" cy="398.4" r="1.35" fill="#c4c4c4" stroke="#1a1a1a" stroke-width="1.35"/>
<circle cx="307.6" cy="389.1" r="1.35" fill="#c4c4c4" stroke="#1a1a1a" stroke-width="1.35"/>
<circle cx="309.5" cy="390.0" r="1.35" fill="#c4c4c4" stroke="#1a1a1a" stroke-width="1.35"/>
<circle cx="332.3" cy="371.9" r="1.35" fill="#c4c4c4" stroke="#1a1a1a" stroke-width="1.35"/>
<circle cx="316.0" cy="388.8" r="1.35" fill="#c4c4c4" stroke="#1a1a1a" stroke-width="1.35"/>
<circle cx="330.3" cy="381.2" r="1.35" fill="#c4c4c4" stroke="#1a1a1a" stroke-width="1.35"/>
<circle cx="316.0" cy="393.5" r="1.35" fill="#c4c4c4" stroke="#1a1a1a" stroke-width="1.35"/>
<circle cx="317.3" cy="393.1" r="1.35" fill="#c4c4c4" stroke="#1a1a1a" stroke-width="1.35"/>
<circle cx="311.5" cy="382.2" r="1.35" fill="#c4c4c4" stroke="#1a1a1a" stroke-width="1.35"/>
<circle cx="312.8" cy="381.9" r="1.35" fill="#c4c4c4" stroke="#1a1a1a" stroke-width="1.35"/>
<circle cx="101.9" cy="490.0" r="1.35" fill="#c4c4c4" stroke="#1a1a1a" stroke-width="1.35"/>
<circle cx="103.2" cy="489.7" r="1.35" fill="#c4c4c4" stroke="#1a1a1a" stroke-width="1.35"/>
<circle cx="98.0" cy="493.8" r="1.35" fill="#c4c4c4" stroke="#1a1a1a" stroke-width="1.35"/>
<circle cx="109.7" cy="487.6" r="1.35" fill="#c4c4c4" stroke="#1a1a1a" stroke-width="1.35"/>
<circle cx="121.4" cy="482.1" r="1.35" fill="#c4c4c4" stroke="#1a1a1a" stroke-width="1.35"/>
<circle cx="215.1" cy="432.7" r="1.35" fill="#c4c4c4" stroke="#1a1a1a" stroke-width="1.35"/>
<circle cx="231.4" cy="423.5" r="1.35" fill="#c4c4c4" stroke="#1a1a1a" stroke-width="1.35"/>
<circle cx="370.2" cy="338.8" r="1.35" fill="#c4c4c4" stroke="#1a1a1a" stroke-width="1.35"/>
<circle cx="338.3" cy="363.1" r="1.35" fill="#c4c4c4" stroke="#1a1a1a" stroke-width="1.35"/>
<circle cx="347.4" cy="359.8" r="1.35" fill="#c4c4c4" stroke="#1a1a1a" stroke-width="1.35"/>
<circle cx="348.7" cy="359.5" r="1.35" fill="#c4c4c4" stroke="#1a1a1a" stroke-width="1.35"/>
<circle cx="350.7" cy="359.0" r="1.35" fill="#c4c4c4" stroke="#1a1a1a" stroke-width="1.35"/>
<circle cx="352.0" cy="358.7" r="1.35" fill="#c4c4c4" stroke="#1a1a1a" stroke-width="1.35"/>
<circle cx="64.8" cy="500.5" r="1.35" fill="#c4c4c4" stroke="#1a1a1a" stroke-width="1.35"/>
<circle cx="71.0" cy="500.4" r="1.35" fill="#c4c4c4" stroke="#1a1a1a" stroke-width="1.35"/>
<circle cx="401.7" cy="317.0" r="1.35" fill="#c4c4c4" stroke="#1a1a1a" stroke-width="1.35"/>
<circle cx="389.5" cy="328.1" r="1.35" fill="#c4c4c4" stroke="#1a1a1a" stroke-width="1.35"/>
<circle cx="377.2" cy="337.8" r="1.35" fill="#c4c4c4" stroke="#1a1a1a" stroke-width="1.35"/>
<circle cx="424.0" cy="297.3" r="1.35" fill="#c4c4c4" stroke="#1a1a1a" stroke-width="1.35"/>
<circle cx="218.7" cy="468.2" r="1.35" fill="#c4c4c4" stroke="#1a1a1a" stroke-width="1.35"/>
<circle cx="180.8" cy="474.2" r="1.35" fill="#c4c4c4" stroke="#1a1a1a" stroke-width="1.35"/>
<circle cx="202.7" cy="462.6" r="1.35" fill="#c4c4c4" stroke="#1a1a1a" stroke-width="1.35"/>
<circle cx="225.0" cy="449.8" r="1.35" fill="#c4c4c4" stroke="#1a1a1a" stroke-width="1.35"/>
<circle cx="265.6" cy="432.4" r="1.35" fill="#c4c4c4" stroke="#1a1a1a" stroke-width="1.35"/>
<circle cx="283.7" cy="419.1" r="1.35" fill="#c4c4c4" stroke="#1a1a1a" stroke-width="1.35"/>
<circle cx="314.2" cy="414.0" r="1.35" fill="#c4c4c4" stroke="#1a1a1a" stroke-width="1.35"/>
<circle cx="342.6" cy="401.2" r="1.35" fill="#c4c4c4" stroke="#1a1a1a" stroke-width="1.35"/>
<text transform="translate(77.0,291.8) scale(0.8,1)" font-family="'Liberation Sans', sans-serif" font-size="12.6" fill="#222" stroke="#222" stroke-width="0.35">C</text>
<text transform="translate(16.4,399.4) rotate(-90)" text-anchor="middle" font-family="'Liberation Serif', serif" font-size="13.3" font-weight="bold" fill="#111">ET0, mm/day</text>
<text x="293" y="566.7" text-anchor="middle" font-family="'Liberation Serif', serif" font-size="13.3" font-weight="bold" fill="#111">Pred(ET0, mm/day)</text>
<rect x="175.2" y="572.6" width="197" height="21.9" fill="#fff" stroke="#1a1a1a" stroke-width="1.3"/>
<circle cx="193.6" cy="583.3" r="1.9" fill="#2f63f5"/>
<text x="200.4" y="587.6" font-family="'Liberation Serif', serif" font-size="13.4" fill="#222">Training set</text>
<circle cx="280.9" cy="583.3" r="1.35" fill="#c4c4c4" stroke="#1a1a1a" stroke-width="1.35"/>
<text x="288" y="587.6" font-family="'Liberation Serif', serif" font-size="13.5" fill="#222">Validation set</text>
</svg>
</body></html>
